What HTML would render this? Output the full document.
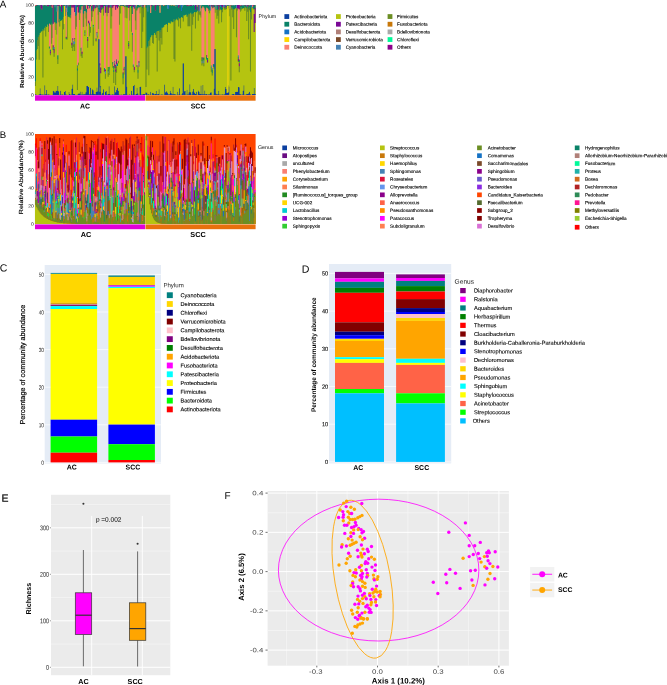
<!DOCTYPE html>
<html lang="en">
<head>
<meta charset="utf-8">
<title>Figure</title>
<style>
html,body{margin:0;padding:0;background:#fff;}
body{width:667px;height:685px;overflow:hidden;}
svg{display:block;font-family:"Liberation Sans", sans-serif;text-rendering:geometricPrecision;}
</style>
</head>
<body>
<svg width="667" height="685" viewBox="0 0 667 685">
<rect x="0" y="0" width="667" height="685" fill="#ffffff"/>
<g id="panelA">
<text x="-0.30" y="7.60" font-size="9.8" fill="#000" text-anchor="start" font-weight="normal" transform="rotate(0.04 -0.30 7.60)">A</text>
<rect x="35.00" y="5.00" width="220.60" height="90.00" fill="#a9b814"/>
<path d="M35.47 95.00V94.30M36.40 95.00V94.55M37.33 95.00V94.93M38.26 95.00V94.87M39.19 95.00V94.23M40.13 95.00V88.22M41.06 95.00V94.05M41.99 95.00V94.63M42.92 95.00V94.05M43.86 95.00V94.71M44.79 95.00V85.32M45.72 95.00V94.34M46.65 95.00V89.99M47.58 95.00V94.55M48.52 95.00V94.29M49.45 95.00V94.39M50.38 95.00V94.77M51.31 95.00V94.88M52.25 95.00V94.71M53.18 95.00V90.77M54.11 95.00V91.26M55.04 95.00V92.55M55.97 95.00V90.81M56.91 95.00V90.78M57.84 95.00V85.95M58.77 95.00V91.36M59.70 95.00V94.73M60.64 95.00V90.82M61.57 95.00V94.45M62.50 95.00V94.22M63.43 95.00V94.79M64.36 95.00V92.06M65.30 95.00V90.89M66.23 95.00V94.52M67.16 95.00V94.47M68.09 95.00V94.90M69.03 95.00V92.04M69.96 95.00V94.02M70.89 95.00V94.84M71.82 95.00V88.81M72.75 95.00V84.39M73.69 95.00V93.94M74.62 95.00V93.93M75.55 95.00V94.72M76.48 95.00V94.64M77.42 95.00V94.57M78.35 95.00V93.51M79.28 95.00V93.38M80.21 95.00V91.51M81.14 95.00V94.43M82.08 95.00V91.63M83.01 95.00V94.50M83.94 95.00V94.11M84.87 95.00V94.19M85.81 95.00V92.34M86.74 95.00V86.01M87.67 95.00V85.74M88.60 95.00V87.01M89.53 95.00V94.20M90.47 95.00V87.67M91.40 95.00V94.19M92.33 95.00V89.14M93.26 95.00V90.36M94.19 95.00V94.11M95.13 95.00V94.16M96.06 95.00V91.99M96.99 95.00V87.51M97.92 95.00V91.39M98.86 95.00V39.20M99.79 95.00V91.73M100.72 95.00V85.88M101.65 95.00V94.62M102.58 95.00V92.68M103.52 95.00V89.28M104.45 95.00V94.96M105.38 95.00V91.77M106.31 95.00V91.06M107.25 95.00V94.45M108.18 95.00V93.94M109.11 95.00V86.31M110.04 95.00V93.93M111.91 95.00V94.35M112.84 95.00V94.16M113.77 95.00V94.60M114.70 95.00V86.29M115.64 95.00V92.37M116.57 95.00V89.81M117.50 95.00V87.80M118.43 95.00V90.82M119.36 95.00V94.53M120.30 95.00V94.81M121.23 95.00V94.29M122.16 95.00V94.94M123.09 95.00V94.34M124.03 95.00V94.12M124.96 95.00V94.15M125.89 95.00V56.30M126.82 95.00V86.86M127.75 95.00V94.67M128.69 95.00V94.84M129.62 95.00V94.36M130.55 95.00V94.93M131.48 95.00V90.84M132.42 95.00V94.43M133.35 95.00V85.94M134.28 95.00V84.67M135.21 95.00V94.75M136.14 95.00V94.08M137.08 95.00V87.75M138.01 95.00V93.55M138.94 95.00V94.88M139.87 95.00V86.90M140.81 95.00V86.60M141.74 95.00V94.39M142.67 95.00V94.18M143.60 95.00V93.97M144.53 95.00V93.99M146.02 95.00V92.53M146.95 95.00V92.48M147.88 95.00V94.43M148.81 95.00V94.06M149.75 95.00V94.86M150.68 95.00V91.71M151.61 95.00V94.65M152.54 95.00V93.03M153.48 95.00V93.31M154.41 95.00V94.32M155.34 95.00V94.08M156.28 95.00V90.89M157.21 95.00V94.32M158.14 95.00V94.08M159.07 95.00V89.35M160.01 95.00V94.83M160.94 95.00V94.49M161.87 95.00V94.26M162.80 95.00V94.59M163.74 95.00V94.71M164.67 95.00V84.45M165.60 95.00V92.17M166.53 95.00V91.14M167.47 95.00V92.53M168.40 95.00V94.13M169.33 95.00V94.31M170.26 95.00V90.80M171.20 95.00V92.99M172.13 95.00V94.16M173.06 95.00V86.67M174.00 95.00V94.25M174.93 95.00V94.11M175.86 95.00V94.42M176.79 95.00V94.68M177.73 95.00V91.65M178.66 95.00V94.48M179.59 95.00V88.19M180.52 95.00V94.73M181.46 95.00V94.45M182.39 95.00V93.25M183.32 95.00V63.50M184.25 95.00V91.16M185.19 95.00V90.89M186.12 95.00V94.80M187.05 95.00V89.63M187.98 95.00V94.53M188.92 95.00V92.32M189.85 95.00V84.32M190.78 95.00V92.30M191.72 95.00V94.49M192.65 95.00V91.46M193.58 95.00V88.90M194.51 95.00V92.42M195.45 95.00V93.98M196.38 95.00V91.67M197.31 95.00V94.68M198.24 95.00V90.57M199.18 95.00V91.75M200.11 95.00V94.01M201.04 95.00V85.48M201.97 95.00V94.19M202.91 95.00V84.92M203.84 95.00V94.32M204.77 95.00V90.62M205.70 95.00V94.24M206.64 95.00V93.96M207.57 95.00V94.40M208.50 95.00V94.30M209.43 95.00V94.27M210.37 95.00V92.47M211.30 95.00V92.23M212.23 95.00V94.68M213.17 95.00V94.74M214.10 95.00V88.70M215.03 95.00V49.10M215.96 95.00V93.48M216.90 95.00V94.18M217.83 95.00V94.36M218.76 95.00V90.78M219.69 95.00V94.45M220.63 95.00V94.40M221.56 95.00V94.38M222.49 95.00V94.37M223.42 95.00V94.38M224.36 95.00V94.35M225.29 95.00V86.94M226.22 95.00V88.93M227.15 95.00V92.94M228.09 95.00V84.93M229.02 95.00V86.59M229.95 95.00V94.93M230.89 95.00V94.87M231.82 95.00V94.51M232.75 95.00V94.12M233.68 95.00V94.07M234.62 95.00V94.40M235.55 95.00V92.01M236.48 95.00V91.71M237.41 95.00V91.66M238.35 95.00V86.90M239.28 95.00V87.35M240.21 95.00V94.03M241.14 95.00V94.50M242.08 95.00V94.57M243.01 95.00V90.82M243.94 95.00V85.30M244.87 95.00V94.83M245.81 95.00V94.38M246.74 95.00V93.64M247.67 95.00V94.06M248.61 95.00V93.31M249.54 95.00V91.83M250.47 95.00V94.33M251.40 95.00V94.95M252.34 95.00V94.04M253.27 95.00V94.05M254.20 95.00V88.01M255.13 95.00V94.11" stroke="#0b3fa0" stroke-width="1.052" fill="none"/>
<path d="M35.47 94.30V86.00M36.40 94.55V59.43M37.33 94.93V48.99M38.26 94.87V46.01M39.19 94.23V59.69M40.13 88.22V33.02M41.06 94.05V31.66M41.99 94.63V30.91M42.92 94.05V77.45M43.86 94.71V30.40M44.79 85.32V27.64M45.72 94.34V36.61M46.65 89.99V26.88M47.58 94.55V24.61M48.52 94.29V32.04M49.45 94.39V48.38M50.38 94.77V55.28M51.31 94.88V43.69M52.25 94.71V38.07M53.18 90.77V49.97M54.11 91.26V56.87M55.04 92.55V30.00M55.97 90.81V23.53M56.91 90.78V34.53M57.84 85.95V63.93M58.77 91.36V22.31M59.70 94.73V26.40M60.64 90.82V20.99M61.57 94.45V20.17M62.50 94.22V49.30M63.43 94.79V29.34M64.36 92.06V23.90M65.30 90.89V16.10M66.23 94.52V39.33M67.16 94.47V39.54M68.09 94.90V16.71M69.03 92.04V16.81M69.96 94.02V17.41M70.89 94.84V18.23M71.82 88.81V47.96M72.75 84.39V50.98M73.69 93.94V46.73M74.62 93.93V51.00M75.55 94.72V29.17M76.48 94.64V26.66M77.42 94.57V90.07M78.35 93.51V65.14M79.28 93.38V20.00M80.21 91.51V13.18M81.14 94.43V56.25M82.08 91.63V58.05M83.01 94.50V26.67M83.94 94.11V26.90M84.87 94.19V36.09M85.81 92.34V18.54M86.74 86.01V26.29M87.67 85.74V47.72M88.60 87.01V23.33M89.53 94.20V36.31M90.47 87.67V32.68M91.40 94.19V21.21M92.33 89.14V17.09M93.26 90.36V45.67M94.19 94.11V8.10M95.13 94.16V9.23M96.06 91.99V41.32M96.99 87.51V38.24M97.92 91.39V14.69M98.86 39.20V28.96M99.79 91.73V87.23M100.72 85.88V73.26M101.65 94.62V9.75M102.58 92.68V8.45M103.52 89.28V15.50M104.45 94.96V71.58M105.38 91.77V78.86M106.31 91.06V12.83M107.25 94.45V16.35M108.18 93.94V76.67M109.11 86.31V75.00M110.04 93.93V7.75M110.97 95.00V28.53M111.91 94.35V16.23M112.84 94.16V67.81M113.77 94.60V83.05M114.70 86.29V68.22M115.64 92.37V85.12M116.57 89.81V72.75M117.50 87.80V66.08M118.43 90.82V63.18M119.36 94.53V24.82M120.30 94.81V13.40M121.23 94.29V5.96M122.16 94.94V6.02M123.09 94.34V84.27M124.03 94.12V74.38M124.96 94.15V17.85M125.89 56.30V6.76M126.82 86.86V18.28M127.75 94.67V7.44M128.69 94.84V48.81M129.62 94.36V20.45M130.55 94.93V6.09M131.48 90.84V31.84M132.42 94.43V51.82M133.35 85.94V66.63M134.28 84.67V72.22M135.21 94.75V20.43M136.14 94.08V29.64M137.08 87.75V67.10M138.01 93.55V78.68M138.94 94.88V66.46M139.87 86.90V13.37M140.81 86.60V6.61M141.74 94.39V47.89M142.67 94.18V31.85M143.60 93.97V17.22M144.53 93.99V7.43M146.02 92.53V86.90M146.95 92.48V69.48M147.88 94.43V46.58M148.81 94.06V75.20M149.75 94.86V45.69M150.68 91.71V37.22M151.61 94.65V35.37M152.54 93.03V43.00M153.48 93.31V43.81M154.41 94.32V33.02M155.34 94.08V34.72M156.28 90.89V38.00M157.21 94.32V71.60M158.14 94.08V31.01M159.07 89.35V40.49M160.01 94.83V51.37M160.94 94.49V37.93M161.87 94.26V44.42M162.80 94.59V27.84M163.74 94.71V26.71M164.67 84.45V24.91M165.60 92.17V24.49M166.53 91.14V24.06M167.47 92.53V31.96M168.40 94.13V22.83M169.33 94.31V22.86M170.26 90.80V23.60M171.20 92.99V21.35M172.13 94.16V22.15M173.06 86.67V21.70M174.00 94.25V58.95M174.93 94.11V61.46M175.86 94.42V19.64M176.79 94.68V18.65M177.73 91.65V20.25M178.66 94.48V26.51M179.59 88.19V18.55M180.52 94.73V28.30M181.46 94.45V17.12M182.39 93.25V17.64M183.32 63.50V21.46M184.25 91.16V15.50M185.19 90.89V15.07M186.12 94.80V14.56M187.05 89.63V16.69M187.98 94.53V26.20M188.92 92.32V26.22M189.85 84.32V26.22M190.78 92.30V12.84M191.72 94.49V50.75M192.65 91.46V24.69M193.58 88.90V16.71M194.51 92.42V12.07M195.45 93.98V28.38M196.38 91.67V12.36M197.31 94.68V10.65M198.24 90.57V20.86M199.18 91.75V14.58M200.11 94.01V15.36M201.04 85.48V17.40M201.97 94.19V65.41M202.91 84.92V63.54M203.84 94.32V66.29M204.77 90.62V10.11M205.70 94.24V11.17M206.64 93.96V59.51M207.57 94.40V62.45M208.50 94.30V10.84M209.43 94.27V13.26M210.37 92.47V10.59M211.30 92.23V71.75M212.23 94.68V75.41M213.17 94.74V66.69M214.10 88.70V68.68M215.03 49.10V12.65M215.96 93.48V9.07M216.90 94.18V18.81M217.83 94.36V15.80M218.76 90.78V23.47M219.69 94.45V10.47M220.63 94.40V9.62M221.56 94.38V22.14M222.49 94.37V12.27M223.42 94.38V7.31M224.36 94.35V9.45M225.29 86.94V9.87M226.22 88.93V8.99M227.15 92.94V9.22M229.02 86.59V16.36M229.95 94.93V8.63M230.89 94.87V80.60M231.82 94.51V9.47M232.75 94.12V17.24M233.68 94.07V28.92M234.62 94.40V9.34M235.55 92.01V8.37M236.48 91.71V37.15M237.41 91.66V10.39M238.35 86.90V62.07M239.28 87.35V72.32M240.21 94.03V11.66M241.14 94.50V10.51M242.08 94.57V9.04M243.01 90.82V8.06M243.94 85.30V8.31M244.87 94.83V10.84M245.81 94.38V7.49M246.74 93.64V20.89M247.67 94.06V11.65M248.61 93.31V39.25M249.54 91.83V10.20M250.47 94.33V71.60M251.40 94.95V19.60M252.34 94.04V7.81M253.27 94.05V9.55M254.20 88.01V9.06M255.13 94.11V10.30" stroke="#b5c410" stroke-width="1.052" fill="none"/>
<path d="M35.47 86.00V81.50M36.40 59.43V50.62M37.33 48.99V40.28M38.26 46.01V37.03M39.19 59.69V35.19M42.92 77.45V29.16M45.72 36.61V25.93M48.52 32.04V26.29M49.45 46.69V46.29M50.38 55.28V53.38M51.31 43.69V23.73M52.25 38.07V25.10M54.11 56.87V52.86M55.04 30.00V22.23M56.91 34.53V23.31M57.84 63.93V59.39M59.70 26.40V19.17M62.50 49.30V19.57M63.43 29.34V16.98M67.16 39.54V15.36M70.89 18.23V14.91M71.82 47.96V45.18M72.75 50.98V42.09M73.69 46.73V44.34M74.62 51.00V43.68M74.62 41.50V39.10M75.55 29.17V16.04M76.48 26.66V15.57M77.42 90.07V70.76M77.42 68.19V65.71M78.35 65.14V62.58M79.28 20.00V12.42M81.14 56.25V50.82M82.08 58.05V53.64M83.01 26.67V13.41M83.94 26.90V13.98M84.87 36.09V34.13M84.87 32.62V30.70M85.81 18.54V12.19M86.74 26.29V12.80M87.67 47.72V41.12M89.53 36.31V25.48M90.47 32.68V30.04M90.47 30.04V27.50M91.40 21.21V11.09M92.33 17.09V9.57M93.26 45.67V28.57M93.26 28.57V27.24M96.99 38.24V36.77M97.92 14.69V8.83M98.86 28.96V9.98M99.79 87.23V65.34M99.79 63.61V63.25M103.52 15.50V8.36M105.38 78.86V73.64M106.31 12.83V6.68M107.25 16.35V6.63M108.18 76.67V72.63M108.18 69.74V66.99M109.11 75.00V69.66M109.11 66.96V66.78M110.97 28.53V7.29M111.91 16.23V7.99M112.84 67.81V64.47M113.77 83.05V72.07M113.77 69.80V68.86M114.70 68.22V66.77M115.64 85.12V71.74M115.64 69.23V68.09M116.57 72.75V66.31M118.43 63.18V60.88M119.36 24.82V6.45M120.30 13.40V6.05M123.09 84.27V78.55M124.03 74.38V70.30M124.96 17.85V5.72M126.82 18.28V7.55M128.69 48.81V46.24M128.69 42.68V40.91M129.62 20.45V7.63M131.48 31.84V8.14M132.42 51.82V35.33M134.28 72.22V69.94M135.21 20.43V8.22M136.14 29.64V6.36M138.01 78.68V72.71M138.01 69.85V67.29M139.87 13.37V7.21M141.74 47.89V6.71M142.67 31.85V8.17M143.60 17.22V5.72M146.02 86.90V7.70M146.95 69.48V48.17M148.81 75.20V41.00M149.75 45.69V39.73M152.54 43.00V35.61M153.48 43.81V35.05M156.28 38.00V32.17M157.21 71.60V31.10M159.07 40.49V30.50M160.01 51.37V31.88M160.94 37.93V29.93M161.87 44.42V27.75M167.47 31.96V25.17M174.00 58.95V19.24M174.93 61.46V21.16M178.66 26.51V17.52M180.52 28.30V18.26M183.32 21.46V15.52M187.98 26.20V15.17M188.92 26.22V13.67M189.85 26.22V14.15M191.72 50.75V14.61M192.65 24.69V13.79M193.58 16.71V13.14M195.45 28.38V11.96M198.24 20.86V11.70M199.18 14.58V11.18M200.11 15.36V11.15M201.04 17.40V11.25M201.97 65.41V63.19M202.91 63.54V61.22M202.91 61.22V58.60M203.84 66.29V64.55M203.84 64.55V63.19M204.77 10.11V8.95M208.50 10.84V9.16M209.43 13.26V10.17M211.30 71.75V71.12M211.30 71.12V68.28M212.23 75.41V73.32M214.10 68.68V67.20M215.03 12.65V9.85M216.90 18.81V10.03M217.83 15.80V9.76M218.76 23.47V9.46M219.69 10.47V7.18M221.56 22.14V10.05M222.49 12.27V9.20M224.36 9.45V7.79M225.29 9.87V7.68M226.22 8.99V6.88M229.02 16.36V8.06M230.89 80.60V8.60M231.82 9.47V7.31M232.75 17.24V8.64M233.68 28.92V9.52M236.48 37.15V8.36M237.41 10.39V8.60M238.35 62.07V61.12M239.28 72.32V66.28M239.28 63.23V62.01M240.21 11.66V9.31M241.14 10.51V7.08M244.87 10.84V6.49M246.74 20.89V8.28M247.67 11.65V6.81M248.61 39.25V8.71M249.54 10.20V7.14M250.47 71.60V12.20M251.40 19.60V7.19M253.27 9.55V8.41M255.13 10.30V8.86" stroke="#6b8e23" stroke-width="1.052" fill="none"/>
<path d="M35.47 81.50V5.77M36.40 50.62V5.79M37.33 40.28V5.07M38.26 37.03V6.18M38.26 6.18V5.00M39.19 35.19V5.89M40.13 33.02V5.26M41.06 31.66V8.61M41.99 30.91V9.46M42.92 29.16V6.00M43.86 30.40V5.09M44.79 27.64V5.56M45.72 25.93V5.31M46.65 26.88V5.79M47.58 24.61V6.27M48.52 26.29V6.20M49.45 48.38V46.69M49.45 23.69V5.00M50.38 51.17V50.09M50.38 50.09V49.62M50.38 24.80V5.00M51.31 23.73V6.41M52.25 25.10V7.82M53.18 49.97V47.96M54.11 22.45V5.00M55.04 22.23V7.31M55.97 23.53V9.82M55.97 9.82V5.00M56.91 23.31V11.53M57.84 59.39V57.08M57.84 57.08V55.51M58.77 22.31V6.08M59.70 19.17V5.35M60.64 20.99V6.17M61.57 20.17V11.69M62.50 19.57V5.47M63.43 16.98V5.14M64.36 5.90V5.00M65.30 16.10V8.44M66.23 39.33V38.00M66.23 36.94V36.70M67.16 15.36V12.04M68.09 16.71V5.49M69.03 16.81V6.42M69.96 17.41V6.09M69.96 6.09V5.00M70.89 14.91V10.39M70.89 10.39V5.00M72.75 42.09V40.53M72.75 40.53V39.77M72.75 38.44V37.89M75.55 16.04V12.93M76.48 15.57V5.40M77.42 70.76V68.19M77.42 7.28V5.00M79.28 12.42V5.92M80.21 13.18V5.00M81.14 50.82V48.04M81.14 9.79V5.00M82.08 6.36V5.00M83.01 13.41V5.17M83.94 13.98V9.63M84.87 33.35V32.62M84.87 30.70V30.36M84.87 11.06V5.00M85.81 12.19V5.17M86.74 12.80V8.63M87.67 38.50V36.97M88.60 6.06V5.00M89.53 25.48V23.54M89.53 8.44V5.00M90.47 27.50V26.85M91.40 11.09V5.83M92.33 9.57V5.36M93.26 26.26V25.16M93.26 25.16V24.65M95.13 9.23V6.32M96.06 40.57V39.12M96.06 8.06V5.00M96.99 36.77V35.43M97.92 8.83V5.57M98.86 9.98V8.02M99.79 12.10V5.00M101.65 9.75V7.58M102.58 8.45V7.35M103.52 8.36V6.29M103.52 6.29V5.00M104.45 70.22V67.95M104.45 6.35V5.00M105.38 69.90V69.33M107.25 6.63V5.23M108.18 71.58V69.74M109.11 69.66V68.37M109.11 68.37V66.96M110.04 7.75V5.33M110.04 5.33V5.00M112.84 64.47V62.29M113.77 72.07V69.80M113.77 68.86V67.74M113.77 67.74V65.97M114.70 64.28V63.07M114.70 62.34V60.83M115.64 66.53V65.03M116.57 60.91V59.24M117.50 66.08V63.29M118.43 6.73V5.00M119.36 6.45V5.89M120.30 6.05V5.15M121.23 5.96V5.19M122.16 6.02V5.54M123.09 78.55V75.80M123.09 75.80V73.60M123.09 6.11V5.00M124.03 68.60V66.78M124.03 7.33V5.00M125.89 6.76V5.77M126.82 7.55V6.10M127.75 7.44V5.00M128.69 44.14V42.68M129.62 7.63V5.90M130.55 6.09V5.96M131.48 8.14V5.83M132.42 35.33V32.76M132.42 13.90V5.00M133.35 66.63V65.36M134.28 66.88V66.72M137.08 67.10V66.32M137.08 66.32V65.34M137.08 10.39V5.00M138.01 72.71V69.85M138.01 8.48V5.00M138.94 7.46V5.00M139.87 7.21V5.41M140.81 6.61V5.59M142.67 8.17V6.83M143.60 5.72V5.00M146.02 7.70V5.57M146.95 48.17V5.62M146.95 5.62V5.00M147.88 46.58V11.54M148.81 41.00V5.80M148.81 5.80V5.00M149.75 39.73V6.27M150.68 37.22V12.94M151.61 35.37V6.40M152.54 35.61V5.21M153.48 35.05V5.56M154.41 33.02V5.20M155.34 34.72V10.50M156.28 32.17V5.84M157.21 31.10V5.60M157.21 5.60V5.00M158.14 31.01V5.03M159.07 30.50V6.12M160.01 31.88V12.73M160.94 29.93V6.14M160.94 6.14V5.00M161.87 27.75V6.10M162.80 27.84V5.11M162.80 5.11V5.00M163.74 26.71V6.07M164.67 24.91V5.24M165.60 24.49V5.33M166.53 24.06V6.43M166.53 6.43V5.00M167.47 25.17V8.48M168.40 22.83V9.06M169.33 22.86V5.52M170.26 23.60V7.68M170.26 7.68V5.00M171.20 21.35V5.42M172.13 22.15V5.22M173.06 21.70V11.01M173.06 11.01V5.00M174.00 19.24V6.07M174.93 21.16V5.80M174.93 5.80V5.00M175.86 19.64V6.84M176.79 18.65V5.61M176.79 5.61V5.00M177.73 20.25V5.88M178.66 17.52V7.71M179.59 18.55V5.76M180.52 18.26V5.42M181.46 17.12V10.92M182.39 17.64V7.35M183.32 15.52V5.43M184.25 15.50V10.65M184.25 10.65V5.00M185.19 15.07V5.06M185.19 5.06V5.00M186.12 14.56V6.12M186.12 6.12V5.00M187.05 16.69V6.02M187.98 15.17V6.34M188.92 13.67V5.58M189.85 14.15V5.59M190.78 12.84V5.96M191.72 14.61V5.82M192.65 13.79V6.09M193.58 13.14V11.32M193.58 11.32V5.00M194.51 12.07V5.86M195.45 11.96V9.76M196.38 12.36V5.56M197.31 10.65V6.40M198.24 11.70V10.59M201.04 11.25V6.12M201.97 61.16V59.58M201.97 58.71V57.33M201.97 8.27V5.00M202.91 6.46V5.00M203.84 60.58V58.82M203.84 58.82V57.40M203.84 7.78V5.00M204.77 8.95V5.05M205.70 11.17V6.22M205.70 6.22V5.00M206.64 59.51V56.38M206.64 7.78V5.00M207.57 59.90V58.04M207.57 8.58V5.00M208.50 9.16V5.54M209.43 10.17V6.03M211.30 68.28V66.91M212.23 73.32V70.57M212.23 70.57V69.56M212.23 8.44V5.00M213.17 66.69V64.11M214.10 67.20V64.47M214.10 64.47V64.16M214.10 7.20V5.00M215.03 9.85V5.28M215.96 9.07V8.91M216.90 10.03V5.96M217.83 9.76V5.75M217.83 5.75V5.00M219.69 7.18V5.77M220.63 9.62V6.92M221.56 10.05V6.01M222.49 9.20V7.49M224.36 7.79V6.40M226.22 6.88V5.91M227.15 9.22V5.57M228.09 8.60V5.00M229.02 8.06V5.75M230.89 8.60V5.42M231.82 7.31V5.32M232.75 8.64V5.48M233.68 9.52V5.80M234.62 9.34V5.50M235.55 8.37V5.00M238.35 59.12V56.96M239.28 62.01V60.26M239.28 60.26V59.51M240.21 9.31V5.77M241.14 7.08V5.97M242.08 9.04V5.83M243.01 8.06V6.00M243.94 8.31V5.16M244.87 6.49V5.74M244.87 5.74V5.00M245.81 7.49V6.04M246.74 8.28V6.21M248.61 8.71V5.25M249.54 7.14V5.34M250.47 12.20V5.32M252.34 7.81V7.23M253.27 8.41V6.14M254.20 9.06V5.48M254.20 5.48V5.00M255.13 8.86V5.35" stroke="#0a8268" stroke-width="1.052" fill="none"/>
<path d="M35.47 5.77V5.00M49.45 46.29V23.69M50.38 49.62V24.80M52.25 7.82V5.00M53.18 45.37V23.74M54.11 47.12V22.45M57.84 55.08V6.07M60.64 6.17V5.00M66.23 36.70V7.65M71.82 42.72V7.51M72.75 37.89V7.47M73.69 41.38V7.42M74.62 38.28V12.07M77.42 64.91V7.28M78.35 62.58V12.42M81.14 47.77V9.79M82.08 51.77V6.36M84.87 30.36V11.06M86.74 8.63V5.00M87.67 36.97V8.86M88.60 20.78V6.06M89.53 22.78V8.44M90.47 26.85V6.18M91.40 5.83V5.00M93.26 24.65V11.35M96.06 38.48V8.06M96.99 32.28V7.33M97.92 5.57V5.00M99.79 63.25V12.10M100.72 67.43V12.67M104.45 67.95V6.35M105.38 69.33V12.76M108.18 66.99V13.02M109.11 66.78V7.58M112.84 61.91V7.47M113.77 65.97V5.91M114.70 60.83V5.21M115.64 65.03V9.70M116.57 59.24V6.44M117.50 63.29V8.20M118.43 60.75V6.73M119.36 5.89V5.00M123.09 72.45V6.11M124.03 66.78V7.33M124.96 5.72V5.00M128.69 40.91V7.89M132.42 32.76V13.90M133.35 64.40V6.91M134.28 66.72V8.46M136.14 6.36V5.00M137.08 64.88V10.39M138.01 66.79V8.48M138.94 61.25V7.46M139.87 5.41V5.00M144.53 7.43V5.00M150.68 12.94V5.00M158.14 5.03V5.00M160.01 12.73V5.00M163.74 6.07V5.00M171.20 5.42V5.00M172.13 5.22V5.00M174.00 6.07V5.00M188.92 5.58V5.00M197.31 6.40V5.00M200.11 11.15V5.00M201.97 57.33V8.27M202.91 57.46V6.46M203.84 57.40V7.78M206.64 55.29V7.78M207.57 58.04V8.58M211.30 65.46V6.57M212.23 68.11V8.44M213.17 64.11V7.41M214.10 64.16V7.20M215.03 5.28V5.00M229.95 8.63V5.00M231.82 5.32V5.00M238.35 55.42V8.41M239.28 59.51V9.24M240.21 5.77V5.00M243.94 5.16V5.00M249.54 5.34V5.00M252.34 7.23V5.00" stroke="#fa8072" stroke-width="1.052" fill="none"/>
<path d="M36.40 5.79V5.00M37.33 5.07V5.00M47.58 6.27V5.00M48.52 6.20V5.00M51.31 6.41V5.00M53.18 47.96V45.37M54.11 51.51V49.11M58.77 6.08V5.00M59.70 5.35V5.00M61.57 11.69V5.00M66.23 38.00V36.94M66.23 7.65V5.00M71.82 7.51V5.00M72.75 39.77V38.44M73.69 7.42V5.00M74.62 39.10V38.28M78.35 12.42V5.00M83.94 9.63V5.00M87.67 41.12V38.50M87.67 8.86V5.00M88.60 23.33V20.78M90.47 6.18V5.00M93.26 11.35V5.00M96.06 41.32V40.57M100.72 70.50V67.43M101.65 7.58V5.00M102.58 7.35V5.00M104.45 71.58V70.22M105.38 70.94V69.90M111.91 7.99V5.00M112.84 62.29V61.91M113.77 5.91V5.00M114.70 66.77V64.28M115.64 68.09V66.53M116.57 64.11V61.84M116.57 6.44V5.00M122.16 5.54V5.00M128.69 7.89V5.00M129.62 5.90V5.00M131.48 5.83V5.00M134.28 69.94V66.88M134.28 8.46V5.00M138.94 66.46V65.42M142.67 6.83V5.00M155.34 10.50V5.00M178.66 7.71V5.00M179.59 5.76V5.00M187.05 6.02V5.00M189.85 5.59V5.00M198.24 10.59V5.00M202.91 58.60V57.46M206.64 56.38V55.29M209.43 6.03V5.00M219.69 5.77V5.00M222.49 7.49V5.00M225.29 7.68V5.00M238.35 61.12V59.12M239.28 66.28V63.23M241.14 5.97V5.00M247.67 6.81V5.00M253.27 6.14V5.00" stroke="#8b008b" stroke-width="1.052" fill="none"/>
<path d="M39.19 5.89V5.00M43.86 5.09V5.00M55.04 7.31V5.00M56.91 11.53V5.00M67.16 12.04V5.00M75.55 12.93V5.00M92.33 5.36V5.00M95.13 6.32V5.00M98.86 8.02V5.00M106.31 6.68V5.00M110.97 7.29V5.00M121.23 5.19V5.00M125.89 5.77V5.00M135.21 8.22V5.00M140.81 5.59V5.00M147.88 11.54V5.00M149.75 6.27V5.00M152.54 5.21V5.00M161.87 6.10V5.00M165.60 5.33V5.00M168.40 9.06V5.00M177.73 5.88V5.00M180.52 5.42V5.00M181.46 10.92V5.00M196.38 5.56V5.00M199.18 11.18V5.00M220.63 6.92V5.00M224.36 6.40V5.00M229.02 5.75V5.00M233.68 5.80V5.00M243.01 6.00V5.00M251.40 7.19V5.00" stroke="#1572c4" stroke-width="1.052" fill="none"/>
<path d="M40.13 5.26V5.00M41.06 8.61V5.00M41.99 9.46V5.00M44.79 5.56V5.00M50.38 53.38V51.17M53.18 23.74V5.00M54.11 52.86V51.51M57.84 6.07V5.00M62.50 5.47V5.00M63.43 5.14V5.00M69.03 6.42V5.00M71.82 45.18V42.72M72.75 7.47V5.00M74.62 12.07V5.00M76.48 5.40V5.00M79.28 5.92V5.00M82.08 53.64V51.77M89.53 23.54V22.78M94.19 8.10V5.00M96.06 39.12V38.48M96.99 33.09V32.28M96.99 7.33V5.00M99.79 65.34V63.61M100.72 73.26V70.50M100.72 12.67V5.00M105.38 12.76V5.00M108.18 13.02V5.00M109.11 7.58V5.00M112.84 7.47V5.00M114.70 5.21V5.00M115.64 71.74V69.23M115.64 9.70V5.00M116.57 61.84V60.91M117.50 8.20V5.00M120.30 5.15V5.00M123.09 73.60V72.45M124.03 70.30V68.60M126.82 6.10V5.00M128.69 46.24V44.14M130.55 5.96V5.00M133.35 6.91V5.00M137.08 65.34V64.88M138.01 67.29V66.79M138.94 62.78V61.25M146.02 5.57V5.00M151.61 6.40V5.00M156.28 5.84V5.00M159.07 6.12V5.00M164.67 5.24V5.00M187.98 6.34V5.00M190.78 5.96V5.00M191.72 5.82V5.00M195.45 9.76V5.00M201.97 59.58V58.71M204.77 5.05V5.00M207.57 62.45V59.90M211.30 6.57V5.00M213.17 7.41V5.00M216.90 5.96V5.00M218.76 9.46V5.00M221.56 6.01V5.00M227.15 5.57V5.00M230.89 5.42V5.00M237.41 8.60V5.00M238.35 8.41V5.00M239.28 9.24V5.00M245.81 6.04V5.00M248.61 5.25V5.00M250.47 5.32V5.00M255.13 5.35V5.00M255.13 23.00V7.70M254.20 32.00V14.00" stroke="#7a0896" stroke-width="1.052" fill="none"/>
<path d="M42.92 6.00V5.00M45.72 5.31V5.00M46.65 5.79V5.00M54.11 49.11V47.12M57.84 55.51V55.08M65.30 8.44V5.00M68.09 5.49V5.00M73.69 44.34V41.38M74.62 43.68V41.50M77.42 65.71V64.91M81.14 48.04V47.77M83.01 5.17V5.00M84.87 34.13V33.35M85.81 5.17V5.00M93.26 27.24V26.26M96.99 35.43V33.09M105.38 73.64V70.94M107.25 5.23V5.00M108.18 72.63V71.58M114.70 63.07V62.34M116.57 66.31V64.11M118.43 60.88V60.75M133.35 65.36V64.40M138.94 65.42V62.78M141.74 6.71V5.00M153.48 5.56V5.00M154.41 5.20V5.00M167.47 8.48V5.00M169.33 5.52V5.00M175.86 6.84V5.00M182.39 7.35V5.00M183.32 5.43V5.00M192.65 6.09V5.00M194.51 5.86V5.00M201.04 6.12V5.00M201.97 63.19V61.16M203.84 63.19V60.58M208.50 5.54V5.00M210.37 10.59V5.00M211.30 66.91V65.46M212.23 69.56V68.11M215.96 8.91V5.00M223.42 7.31V5.00M226.22 5.91V5.00M232.75 5.48V5.00M234.62 5.50V5.00M236.48 8.36V5.00M238.35 56.96V55.42M242.08 5.83V5.00M246.74 6.21V5.00" stroke="#4682b4" stroke-width="1.052" fill="none"/>
<path d="M64.36 23.90V5.90" stroke="#ffd700" stroke-width="1.052" fill="none"/>
<path d="M228.09 84.93V8.60" stroke="#e3cf08" stroke-width="1.052" fill="none"/>
<rect x="125.27" y="56.30" width="1.24" height="38.70" fill="#1a4a9a"/>
<rect x="98.24" y="39.20" width="1.24" height="55.80" fill="#1a4a9a"/>
<rect x="182.70" y="63.50" width="1.24" height="31.50" fill="#1a4a9a"/>
<rect x="214.41" y="49.10" width="1.24" height="45.90" fill="#1a4a9a"/>
<rect x="227.00" y="5.90" width="1.70" height="86.50" fill="#dccf0c"/>
<rect x="35.00" y="95.20" width="110.10" height="5.50" fill="#e000d8"/>
<rect x="145.50" y="95.20" width="110.10" height="5.50" fill="#e8700c"/>
<text x="33.90" y="96.60" font-size="4.5" fill="#222" text-anchor="end" font-weight="normal" transform="rotate(0.04 33.90 96.60)" textLength="2.8" lengthAdjust="spacingAndGlyphs">0</text>
<text x="33.90" y="78.60" font-size="4.5" fill="#222" text-anchor="end" font-weight="normal" transform="rotate(0.04 33.90 78.60)" textLength="5.6" lengthAdjust="spacingAndGlyphs">20</text>
<text x="33.90" y="60.60" font-size="4.5" fill="#222" text-anchor="end" font-weight="normal" transform="rotate(0.04 33.90 60.60)" textLength="5.6" lengthAdjust="spacingAndGlyphs">40</text>
<text x="33.90" y="42.60" font-size="4.5" fill="#222" text-anchor="end" font-weight="normal" transform="rotate(0.04 33.90 42.60)" textLength="5.6" lengthAdjust="spacingAndGlyphs">60</text>
<text x="33.90" y="24.60" font-size="4.5" fill="#222" text-anchor="end" font-weight="normal" transform="rotate(0.04 33.90 24.60)" textLength="5.6" lengthAdjust="spacingAndGlyphs">80</text>
<text x="33.90" y="6.60" font-size="4.5" fill="#222" text-anchor="end" font-weight="normal" transform="rotate(0.04 33.90 6.60)" textLength="8.4" lengthAdjust="spacingAndGlyphs">100</text>
<text x="23.50" y="51.50" font-size="5.9" fill="#000" text-anchor="middle" font-weight="bold" transform="rotate(-90 23.50 51.50)" textLength="73" lengthAdjust="spacingAndGlyphs">Relative Abundance(%)</text>
<text x="85.00" y="108.50" font-size="7.0" fill="#000" text-anchor="middle" font-weight="bold" transform="rotate(0.04 85.00 108.50)">AC</text>
<text x="198.10" y="108.50" font-size="7.0" fill="#000" text-anchor="middle" font-weight="bold" transform="rotate(0.04 198.10 108.50)">SCC</text>
<text x="258.60" y="18.00" font-size="5.3" fill="#111" text-anchor="start" font-weight="normal" transform="rotate(0.04 258.60 18.00)">Phylum</text>
<rect x="284.40" y="14.15" width="4.80" height="4.80" fill="#0b3fa0"/>
<text x="294.30" y="18.15" font-size="4.6" fill="#000" text-anchor="start" font-weight="normal" transform="rotate(0.04 294.30 18.15)" stroke="#000" stroke-width="0.12">Actinobacteriota</text>
<rect x="284.40" y="21.82" width="4.80" height="4.80" fill="#0a8268"/>
<text x="294.30" y="25.82" font-size="4.6" fill="#000" text-anchor="start" font-weight="normal" transform="rotate(0.04 294.30 25.82)" stroke="#000" stroke-width="0.12">Bacteroidota</text>
<rect x="284.40" y="29.49" width="4.80" height="4.80" fill="#1572c4"/>
<text x="294.30" y="33.49" font-size="4.6" fill="#000" text-anchor="start" font-weight="normal" transform="rotate(0.04 294.30 33.49)" stroke="#000" stroke-width="0.12">Acidobacteriota</text>
<rect x="284.40" y="37.16" width="4.80" height="4.80" fill="#ffd700"/>
<text x="294.30" y="41.16" font-size="4.6" fill="#000" text-anchor="start" font-weight="normal" transform="rotate(0.04 294.30 41.16)" stroke="#000" stroke-width="0.12">Campilobacterota</text>
<rect x="284.40" y="44.83" width="4.80" height="4.80" fill="#fa8072"/>
<text x="294.30" y="48.83" font-size="4.6" fill="#000" text-anchor="start" font-weight="normal" transform="rotate(0.04 294.30 48.83)" stroke="#000" stroke-width="0.12">Deinococcota</text>
<rect x="336.00" y="14.15" width="4.80" height="4.80" fill="#b5c410"/>
<text x="345.70" y="18.15" font-size="4.6" fill="#000" text-anchor="start" font-weight="normal" transform="rotate(0.04 345.70 18.15)" stroke="#000" stroke-width="0.12">Proteobacteria</text>
<rect x="336.00" y="21.82" width="4.80" height="4.80" fill="#7a0896"/>
<text x="345.70" y="25.82" font-size="4.6" fill="#000" text-anchor="start" font-weight="normal" transform="rotate(0.04 345.70 25.82)" stroke="#000" stroke-width="0.12">Patescibacteria</text>
<rect x="336.00" y="29.49" width="4.80" height="4.80" fill="#b08078"/>
<text x="345.70" y="33.49" font-size="4.6" fill="#000" text-anchor="start" font-weight="normal" transform="rotate(0.04 345.70 33.49)" stroke="#000" stroke-width="0.12">Desulfobacterota</text>
<rect x="336.00" y="37.16" width="4.80" height="4.80" fill="#7a4a2a"/>
<text x="345.70" y="41.16" font-size="4.6" fill="#000" text-anchor="start" font-weight="normal" transform="rotate(0.04 345.70 41.16)" stroke="#000" stroke-width="0.12">Verrucomicrobiota</text>
<rect x="336.00" y="44.83" width="4.80" height="4.80" fill="#4682b4"/>
<text x="345.70" y="48.83" font-size="4.6" fill="#000" text-anchor="start" font-weight="normal" transform="rotate(0.04 345.70 48.83)" stroke="#000" stroke-width="0.12">Cyanobacteria</text>
<rect x="387.60" y="14.15" width="4.80" height="4.80" fill="#6b8e23"/>
<text x="397.10" y="18.15" font-size="4.6" fill="#000" text-anchor="start" font-weight="normal" transform="rotate(0.04 397.10 18.15)" stroke="#000" stroke-width="0.12">Firmicutes</text>
<rect x="387.60" y="21.82" width="4.80" height="4.80" fill="#c8780a"/>
<text x="397.10" y="25.82" font-size="4.6" fill="#000" text-anchor="start" font-weight="normal" transform="rotate(0.04 397.10 25.82)" stroke="#000" stroke-width="0.12">Fusobacteriota</text>
<rect x="387.60" y="29.49" width="4.80" height="4.80" fill="#a9a9a9"/>
<text x="397.10" y="33.49" font-size="4.6" fill="#000" text-anchor="start" font-weight="normal" transform="rotate(0.04 397.10 33.49)" stroke="#000" stroke-width="0.12">Bdellovibrionota</text>
<rect x="387.60" y="37.16" width="4.80" height="4.80" fill="#00fa9a"/>
<text x="397.10" y="41.16" font-size="4.6" fill="#000" text-anchor="start" font-weight="normal" transform="rotate(0.04 397.10 41.16)" stroke="#000" stroke-width="0.12">Chloroflexi</text>
<rect x="387.60" y="44.83" width="4.80" height="4.80" fill="#8b008b"/>
<text x="397.10" y="48.83" font-size="4.6" fill="#000" text-anchor="start" font-weight="normal" transform="rotate(0.04 397.10 48.83)" stroke="#000" stroke-width="0.12">Others</text>
</g>
<g id="panelB">
<text x="-0.30" y="137.90" font-size="9.6" fill="#000" text-anchor="start" font-weight="normal" transform="rotate(0.04 -0.30 137.90)">B</text>
<rect x="35.00" y="134.00" width="110.00" height="90.00" fill="#ff4500"/>
<rect x="145.55" y="134.00" width="110.05" height="90.00" fill="#ff4500"/>
<path d="M35.47 224.00V204.77M36.40 224.00V206.66M37.33 224.00V208.37M38.26 224.00V209.91M39.19 224.00V211.29M40.13 224.00V212.54M41.06 224.00V213.67M41.99 224.00V214.69M42.92 224.00V215.60M43.86 224.00V216.43M44.79 224.00V217.18M45.72 224.00V217.85M46.65 224.00V218.45M47.58 224.00V219.00M48.52 224.00V219.49M49.45 224.00V219.93M50.38 224.00V220.33M51.31 224.00V220.69M52.25 224.00V221.02M53.18 224.00V221.31M54.11 224.00V221.58M55.04 224.00V221.82M55.97 224.00V222.03M56.91 224.00V222.22M57.84 224.00V222.40M58.77 224.00V222.56M59.70 224.00V222.70M60.64 224.00V222.83M61.57 224.00V222.94M62.50 224.00V223.05M63.43 224.00V223.14M64.36 224.00V223.22M65.30 224.00V223.30M66.23 224.00V223.37M67.16 224.00V223.43M68.09 224.00V223.49M69.03 224.00V223.54M69.96 224.00V223.58M70.89 224.00V223.62M71.82 224.00V223.66M72.75 224.00V223.69M73.69 224.00V223.72M74.62 224.00V223.75M146.02 224.00V140.30M146.95 224.00V140.30M147.88 224.00V187.10M148.81 224.00V196.96M149.75 224.00V204.19M150.68 224.00V209.48M151.61 224.00V213.36M152.54 224.00V216.20M153.48 224.00V218.29M154.41 224.00V219.81M155.34 224.00V220.93M156.28 224.00V221.75M157.21 224.00V222.35M158.14 224.00V222.79M159.07 224.00V223.12M160.01 224.00V223.35M160.94 224.00V223.52M161.87 224.00V223.65M162.80 224.00V223.74M163.74 224.00V223.81M164.67 224.00V223.86M165.60 224.00V223.90M166.53 224.00V223.93M167.47 224.00V223.95M168.40 224.00V223.96M169.33 224.00V223.97M170.26 224.00V223.98M171.20 224.00V223.98M172.13 224.00V223.99" stroke="#b5c410" stroke-width="1.052" fill="none"/>
<path d="M35.47 204.77V199.70M46.65 218.45V210.31M49.45 219.93V213.44M51.31 220.69V218.99M62.50 223.05V220.89M65.30 223.30V209.03M66.23 223.37V215.13M67.16 223.43V217.06M68.09 223.49V220.30M69.03 223.54V216.44M86.74 224.00V221.96M87.67 224.00V216.40M92.33 224.00V216.99M99.79 224.00V214.56M102.58 224.00V214.60M104.45 224.00V221.69M109.11 224.00V218.32M111.91 224.00V218.53M117.50 224.00V220.80M118.43 224.00V218.43M121.23 224.00V218.56M124.96 224.00V215.16M125.89 224.00V218.21M126.82 224.00V216.35M128.69 224.00V220.70M141.74 224.00V215.67M146.02 140.30V135.80M146.95 140.30V135.80M147.88 187.10V183.50M148.81 196.96V194.50M150.68 209.48V205.04M152.54 216.20V214.60M160.94 223.52V221.04M165.60 223.90V216.50M166.53 223.93V217.41M173.06 223.99V220.38M174.00 223.99V217.76M175.86 224.00V221.24M176.79 224.00V218.77M178.66 224.00V222.68M180.52 224.00V216.45M183.32 224.00V215.10M185.19 224.00V214.79M187.05 224.00V219.81M188.92 224.00V214.43M194.51 224.00V218.12M195.45 224.00V221.48M198.24 224.00V216.53M201.04 224.00V220.14M201.97 224.00V220.55M205.70 224.00V220.67M207.57 224.00V217.84M210.37 224.00V198.85M212.23 224.00V213.38M220.63 224.00V215.64M221.56 224.00V209.43M228.09 224.00V210.24M229.95 224.00V215.90M241.14 224.00V217.89M242.08 224.00V212.82M249.54 224.00V221.08M251.40 224.00V221.29M254.20 224.00V217.95" stroke="#7d8f1e" stroke-width="1.052" fill="none"/>
<path d="M35.47 199.70V198.54M38.26 204.78V204.48M39.19 202.20V202.17M49.45 213.44V209.78M53.18 217.73V209.35M55.04 218.62V213.02M57.84 220.81V220.55M61.57 217.93V217.70M63.43 221.23V216.29M72.75 208.15V206.13M73.69 219.32V217.60M75.55 219.72V219.33M79.28 217.49V201.35M87.67 216.40V216.24M93.26 222.28V217.92M96.99 218.27V218.12M97.92 222.17V216.18M98.86 219.23V204.13M102.58 214.60V210.47M113.77 220.38V217.00M123.09 221.31V219.10M126.82 210.69V209.59M127.75 221.48V195.38M128.69 215.14V214.68M129.62 208.33V207.20M137.08 217.59V217.02M138.94 219.30V216.80M147.88 183.50V183.28M152.54 214.60V203.31M153.48 211.30V207.89M155.34 217.28V216.41M158.14 217.03V215.72M160.94 221.04V218.95M161.87 218.89V218.78M163.74 212.22V209.40M164.67 221.32V220.55M166.53 217.41V211.05M169.33 214.40V208.09M170.26 220.34V219.08M172.13 216.61V214.48M173.06 220.38V213.40M174.93 219.57V218.96M177.73 214.47V213.74M180.52 202.28V198.53M181.46 211.13V196.97M182.39 214.23V212.83M195.45 221.48V221.45M200.11 217.05V216.41M211.30 222.07V220.60M212.23 213.38V209.35M220.63 215.64V205.63M224.36 181.67V179.89M225.29 210.41V199.09M227.15 217.46V212.49M228.09 210.24V208.70M229.02 210.03V191.33M229.95 212.28V198.99M230.89 215.10V215.07M233.68 221.11V217.24M241.14 216.51V212.47M243.94 214.04V208.74M255.13 205.44V201.05" stroke="#c8780a" stroke-width="1.052" fill="none"/>
<path d="M35.47 198.54V197.79M39.19 202.17V191.73M43.86 213.00V212.51M45.72 209.09V208.96M46.65 210.31V207.99M52.25 218.22V212.31M57.84 220.55V214.32M58.77 213.27V212.77M69.96 220.85V220.63M73.69 217.60V216.33M79.28 201.35V199.00M84.87 204.72V191.09M85.81 218.46V218.15M86.74 221.96V221.40M89.53 215.38V202.97M98.86 204.13V202.95M101.65 214.53V212.16M105.38 192.19V191.67M106.31 219.66V214.73M107.25 218.12V209.87M110.04 217.71V197.85M115.64 216.86V216.45M117.50 220.80V206.75M129.62 207.20V207.05M141.74 215.67V214.58M152.54 203.31V198.02M155.34 216.41V215.16M156.28 216.90V216.29M157.21 203.18V187.87M160.01 219.24V210.02M161.87 218.78V217.42M166.53 211.05V209.34M170.26 219.08V218.84M172.13 214.48V202.77M173.06 213.40V212.17M177.73 213.74V212.31M180.52 198.53V196.14M181.46 196.97V196.39M182.39 212.83V208.75M186.12 218.82V211.99M188.92 214.43V214.29M191.72 211.08V207.25M199.18 216.70V197.48M201.97 220.55V206.87M202.91 219.61V210.80M204.77 211.03V194.99M205.70 209.23V204.04M206.64 207.76V195.40M208.50 210.55V206.61M212.23 209.35V208.13M215.96 216.04V206.05M221.56 209.43V208.55M225.29 199.09V195.28M227.15 212.49V188.33M242.08 212.82V208.01M243.94 208.74V206.02M245.81 212.49V209.33M246.74 210.44V200.11M248.61 205.50V204.49M252.34 207.31V200.19" stroke="#556b2f" stroke-width="1.052" fill="none"/>
<path d="M35.47 197.79V197.78M37.33 201.04V201.03M38.26 204.48V204.22M44.79 212.09V208.39M48.52 217.41V216.15M52.25 212.31V212.24M55.04 213.02V212.84M56.91 218.26V207.62M58.77 212.77V207.95M63.43 216.29V215.89M64.36 219.34V216.33M65.30 209.03V208.53M67.16 217.06V216.09M71.82 222.02V219.84M75.55 219.33V204.22M77.42 222.70V221.78M78.35 218.11V216.09M80.21 214.52V212.48M85.81 218.15V216.92M88.60 209.52V203.85M89.53 202.97V202.82M90.47 215.47V214.33M91.40 219.62V200.93M92.33 216.99V206.56M93.26 217.92V210.78M94.19 215.12V182.98M96.06 222.23V214.74M98.86 202.95V195.71M99.79 214.56V213.37M101.65 212.16V211.47M124.03 213.83V210.12M125.89 209.28V202.64M126.82 209.59V193.76M130.55 213.00V212.80M131.48 220.34V218.61M134.28 205.20V205.09M138.01 221.43V220.18M141.74 214.58V214.25M148.81 189.56V187.41M149.75 197.83V195.99M154.41 210.79V203.33M155.34 215.16V211.08M157.21 187.87V185.70M158.14 215.72V205.44M159.07 221.63V220.08M165.60 216.50V215.26M167.47 214.97V214.36M169.33 208.09V204.15M170.26 218.84V218.46M171.20 218.02V196.50M177.73 212.31V211.93M179.59 220.36V207.21M188.92 214.29V210.80M189.85 220.91V219.00M196.38 207.31V207.22M200.11 216.41V216.27M201.04 220.14V214.40M202.91 210.80V208.83M209.43 212.93V209.65M213.17 211.73V209.71M214.10 192.17V191.15M215.03 220.80V214.65M217.83 215.86V202.16M218.76 213.70V210.23M219.69 214.72V174.40M226.22 220.68V218.28M233.68 217.24V217.17M234.62 216.59V196.70M235.55 209.75V208.71M249.54 221.08V183.82M255.13 201.05V198.74" stroke="#4682b4" stroke-width="1.052" fill="none"/>
<path d="M35.47 197.78V194.10M41.99 187.68V179.85M46.65 207.99V198.45M57.84 214.32V213.77M59.70 218.86V213.88M60.64 219.97V204.73M63.43 215.89V177.45M64.36 216.33V212.82M66.23 214.80V196.05M68.09 220.30V215.55M69.96 216.72V216.03M70.89 218.66V216.98M71.82 219.84V218.43M74.62 214.32V214.15M76.48 218.67V215.91M81.14 215.18V214.60M86.74 221.40V209.78M96.99 218.12V218.04M99.79 213.37V213.36M100.72 217.85V209.57M101.65 211.47V203.35M109.11 218.32V213.75M110.04 197.85V196.65M110.97 214.67V196.73M112.84 217.05V216.38M122.16 220.19V213.92M132.42 222.37V215.69M133.35 222.68V218.83M137.08 216.07V212.54M138.94 216.80V200.93M140.81 214.34V208.12M142.67 220.65V220.25M155.34 210.12V210.07M160.01 210.02V209.82M164.67 216.28V209.98M170.26 218.46V215.62M177.73 211.88V207.89M182.39 208.75V207.90M183.32 215.10V212.63M186.12 207.30V205.22M192.65 215.96V208.49M200.11 211.92V210.21M205.70 204.04V203.76M208.50 206.61V203.44M210.37 198.85V190.99M211.30 220.60V217.24M213.17 209.71V204.22M214.10 191.15V184.38M220.63 205.63V203.84M226.22 218.28V211.99M229.95 184.25V177.76M231.82 204.99V200.82M238.35 203.82V200.07M240.21 215.43V206.25M247.67 202.71V200.30M249.54 183.82V183.58M250.47 206.73V206.14M252.34 200.19V196.66M254.20 212.51V207.97" stroke="#a9a9a9" stroke-width="1.052" fill="none"/>
<path d="M35.47 194.10V191.20M45.72 208.18V207.61M46.65 184.15V181.41M47.58 212.88V212.43M52.25 212.24V198.93M54.11 220.05V218.37M55.04 212.52V201.91M57.84 213.77V204.45M59.70 213.88V194.11M64.36 211.24V211.07M67.16 216.09V213.97M73.69 207.94V196.14M75.55 204.22V202.81M76.48 215.91V196.52M79.28 179.97V179.88M82.08 200.74V194.08M84.87 191.09V180.12M85.81 212.67V210.31M88.60 203.85V184.14M90.47 214.33V213.90M102.58 210.47V195.31M104.45 202.33V196.25M111.91 218.53V214.23M112.84 210.77V197.49M116.57 183.14V182.81M120.30 222.39V215.42M132.42 215.69V206.12M138.94 200.93V200.57M151.61 205.34V203.32M159.07 220.08V213.22M161.87 217.18V211.10M163.74 208.75V208.64M165.60 205.19V192.35M166.53 205.27V204.16M168.40 220.69V197.91M170.26 215.62V214.73M171.20 196.50V188.72M174.00 208.01V207.84M178.66 222.68V217.41M184.25 221.02V220.18M187.98 185.49V182.69M198.24 215.72V210.94M199.18 197.48V195.26M201.97 206.38V197.72M214.10 184.38V184.33M215.03 200.16V199.86M216.90 202.08V196.64M217.83 202.16V200.06M218.76 210.23V209.56M221.56 208.55V203.94M222.49 208.27V199.36M225.29 195.28V192.34M229.02 167.98V160.94M232.75 215.00V212.99M239.28 216.40V211.68M240.21 206.25V205.83M244.87 213.54V210.40M245.81 209.27V200.89M252.34 196.66V193.01M253.27 208.45V208.12" stroke="#20b2aa" stroke-width="1.052" fill="none"/>
<path d="M35.47 191.20V190.55M36.40 190.84V188.55M41.06 205.75V205.32M51.31 215.34V214.23M52.25 198.93V198.54M53.18 209.35V209.27M56.91 204.58V203.17M59.70 194.11V190.31M61.57 217.48V217.19M62.50 209.89V205.92M65.30 207.48V207.33M69.03 216.44V212.91M70.89 210.74V189.86M71.82 218.04V215.46M72.75 206.13V202.89M83.01 217.34V216.96M87.67 213.47V207.31M89.53 187.06V179.86M91.40 200.93V199.15M96.99 216.13V215.74M99.79 213.36V205.18M101.65 200.72V200.24M102.58 195.31V185.84M109.11 213.75V200.29M112.84 197.49V197.31M114.70 181.28V167.76M119.36 213.25V209.15M121.23 218.32V211.23M124.96 201.86V195.80M126.82 190.84V187.24M127.75 195.38V184.62M136.14 216.71V193.71M143.60 207.64V204.98M149.75 195.99V195.88M150.68 185.45V179.32M154.41 203.33V203.10M155.34 210.07V209.61M164.67 209.59V208.32M165.60 192.35V188.96M167.47 214.36V213.11M168.40 197.91V194.50M172.13 194.84V194.41M173.06 201.61V195.85M174.93 218.96V216.00M181.46 196.39V193.45M184.25 220.18V219.52M185.19 213.32V209.70M187.98 182.69V178.75M190.78 195.59V191.79M197.31 205.45V199.15M199.18 195.26V188.21M208.50 201.20V201.13M214.10 184.33V183.00M215.96 198.88V191.00M217.83 200.06V199.86M225.29 192.34V181.71M226.22 211.99V211.20M231.82 199.44V197.66M235.55 207.33V200.68M240.21 205.83V188.55M243.01 215.46V206.47M244.87 210.40V182.54M253.27 208.12V205.15" stroke="#808000" stroke-width="1.052" fill="none"/>
<path d="M35.47 190.55V189.99M39.19 191.32V188.45M40.13 197.25V195.69M44.79 193.89V192.99M45.72 207.24V206.01M52.25 196.46V196.04M54.11 179.52V179.08M55.04 200.88V200.28M55.97 210.73V201.06M56.91 203.08V198.60M58.77 198.93V195.63M65.30 207.33V205.21M67.16 212.53V212.50M69.03 211.85V191.67M73.69 193.46V190.40M74.62 208.61V193.10M78.35 213.09V209.06M87.67 207.31V204.70M88.60 183.04V181.17M98.86 186.77V185.36M106.31 180.13V162.03M110.04 196.65V188.01M111.91 214.23V166.41M118.43 213.42V193.51M124.96 195.80V194.27M134.28 202.96V202.83M135.21 181.87V181.46M141.74 211.87V211.45M142.67 214.98V208.25M143.60 192.77V182.44M144.53 215.97V215.75M147.88 166.50V158.21M153.48 207.89V200.73M159.07 213.22V210.34M160.01 209.25V208.92M160.94 215.80V209.34M161.87 208.39V201.11M166.53 203.71V195.47M168.40 193.22V192.54M178.66 207.07V200.61M180.52 191.82V191.34M181.46 190.43V190.28M186.12 204.72V201.93M189.85 217.56V214.11M201.97 196.37V195.09M204.77 185.92V175.41M207.57 212.24V198.65M209.43 175.20V175.17M211.30 211.93V201.41M212.23 208.13V192.71M214.10 183.00V180.89M216.90 182.11V173.15M220.63 203.17V195.28M221.56 190.29V179.12M222.49 194.63V188.40M224.36 178.12V176.31M226.22 207.71V204.03M230.89 201.45V201.43M231.82 196.89V196.64M234.62 186.13V177.88M236.48 178.99V178.93M239.28 211.68V209.46M244.87 177.61V170.39M246.74 200.11V196.07M247.67 194.01V193.51M251.40 207.48V187.04M252.34 189.68V189.55" stroke="#00fa9a" stroke-width="1.052" fill="none"/>
<path d="M35.47 189.99V189.64M36.40 173.99V172.87M40.13 194.73V193.74M42.92 195.60V195.48M53.18 189.41V169.33M58.77 195.63V194.56M60.64 194.58V193.12M65.30 199.92V197.75M66.23 171.89V162.55M69.03 191.67V190.36M71.82 211.04V207.55M75.55 196.25V176.08M77.42 214.01V213.26M78.35 209.06V209.03M79.28 173.83V172.09M82.08 191.34V162.01M85.81 197.61V190.45M92.33 167.62V158.64M95.13 213.73V212.58M96.06 202.33V202.23M101.65 192.92V192.48M111.91 162.07V161.95M113.77 202.89V190.14M115.64 197.52V191.91M120.30 203.20V201.37M126.82 186.49V185.26M129.62 174.83V169.35M137.08 201.95V170.59M140.81 195.17V188.13M141.74 208.30V204.61M143.60 180.93V179.02M149.75 193.11V188.70M150.68 173.65V173.58M153.48 183.71V174.05M154.41 199.88V177.29M156.28 209.92V208.43M157.21 185.63V185.34M158.14 195.13V190.39M160.01 208.92V208.70M163.74 194.64V189.01M168.40 189.14V189.06M171.20 177.78V173.90M172.13 181.73V181.58M173.06 191.71V182.81M174.93 212.14V204.09M176.79 183.35V180.42M180.52 190.78V184.04M184.25 200.59V198.30M187.05 199.24V198.59M188.92 205.87V205.22M195.45 190.23V190.02M200.11 192.87V187.64M213.17 191.25V190.02M215.03 190.07V175.89M216.90 162.63V159.42M223.42 197.01V187.58M239.28 208.28V194.85M240.21 188.55V166.41M242.08 181.05V179.12M243.94 190.35V189.52M248.61 172.30V171.36M249.54 167.24V166.12M253.27 201.50V183.76" stroke="#6a5acd" stroke-width="1.052" fill="none"/>
<path d="M35.47 189.64V189.47M37.33 189.83V189.48M39.19 171.98V168.69M43.86 203.62V192.22M44.79 189.01V172.59M45.72 185.93V177.47M48.52 207.60V174.44M49.45 204.67V202.24M53.18 161.95V159.01M54.11 178.33V175.94M59.70 174.95V156.25M60.64 192.91V192.64M61.57 194.90V191.98M64.36 192.65V179.52M68.09 197.75V192.58M69.96 201.75V199.93M72.75 192.73V185.83M76.48 162.07V154.39M87.67 192.70V181.79M88.60 172.35V170.74M93.26 152.52V149.98M95.13 202.38V200.41M96.06 201.59V199.70M103.52 198.66V181.17M107.25 177.01V174.92M111.91 161.17V161.10M112.84 197.31V195.38M114.70 156.45V154.89M115.64 190.84V177.60M120.30 201.37V194.99M121.23 188.29V183.19M122.16 170.48V166.56M125.89 191.27V188.64M130.55 193.34V193.07M134.28 163.03V157.38M141.74 202.73V201.35M148.81 180.74V179.40M152.54 161.84V154.39M155.34 184.48V184.44M158.14 184.33V181.52M165.60 163.22V162.20M166.53 193.80V191.27M168.40 189.06V182.17M170.26 211.44V177.45M171.20 171.37V166.43M172.13 172.32V164.29M180.52 153.92V152.55M188.92 203.94V203.37M190.78 191.38V183.30M191.72 182.61V143.00M196.38 172.36V158.06M198.24 191.16V184.34M201.04 162.42V162.36M203.84 175.45V172.76M207.57 178.54V173.46M208.50 179.14V175.66M209.43 171.21V165.79M210.37 174.42V173.65M211.30 193.06V159.16M212.23 181.40V181.19M213.17 160.57V160.09M215.03 170.41V168.27M225.29 173.02V147.78M226.22 199.69V197.56M227.15 160.08V146.84M229.02 159.58V151.84M229.95 167.91V162.91M232.75 190.77V185.03M233.68 179.03V150.38M234.62 175.25V173.58M239.28 193.92V180.86M240.21 164.26V162.30M241.14 163.49V161.09M248.61 171.36V169.50M250.47 181.37V176.48" stroke="#ff7f50" stroke-width="1.052" fill="none"/>
<path d="M35.47 189.47V157.32M38.26 178.47V168.14M40.13 191.33V190.84M41.06 190.23V190.10M42.92 179.88V177.86M45.72 177.47V169.97M54.11 175.94V172.33M55.97 180.13V170.04M56.91 179.41V176.23M64.36 179.52V177.26M65.30 170.48V163.32M66.23 162.42V152.05M67.16 194.86V191.98M70.89 173.04V168.68M71.82 196.00V195.59M74.62 161.30V159.44M79.28 154.43V152.10M80.21 168.05V165.58M86.74 200.73V181.29M95.13 200.41V196.08M96.99 209.11V201.32M97.92 190.03V170.10M99.79 184.86V179.68M100.72 198.73V198.32M104.45 185.01V184.99M109.11 160.87V160.14M110.04 169.82V166.92M113.77 158.99V154.50M115.64 177.60V177.40M116.57 178.32V164.05M117.50 190.85V184.14M121.23 183.19V177.95M122.16 166.56V152.24M124.03 191.80V150.70M128.69 193.03V183.33M130.55 193.07V192.15M132.42 182.81V182.79M133.35 196.48V195.98M136.14 187.47V180.14M137.08 144.96V144.07M144.53 192.52V187.69M154.41 176.73V173.95M157.21 185.34V184.95M161.87 194.51V193.62M162.80 185.23V182.03M164.67 196.54V187.00M166.53 191.27V180.51M174.93 198.86V198.16M178.66 187.05V186.16M180.52 152.55V150.70M182.39 197.14V192.80M186.12 199.66V198.35M188.92 203.37V201.82M194.51 185.94V155.86M197.31 171.09V170.74M198.24 184.34V172.87M201.04 162.36V159.11M209.43 165.79V165.77M215.96 171.67V170.88M216.90 158.04V156.71M222.49 169.78V159.31M229.95 162.91V160.31M235.55 194.38V192.52M237.41 152.96V152.57M239.28 180.86V180.46M243.94 168.33V165.65M246.74 188.33V185.63M255.13 188.75V173.10" stroke="#fa8072" stroke-width="1.052" fill="none"/>
<path d="M35.47 157.32V156.08M37.33 189.48V160.09M42.92 177.86V176.81M43.86 186.19V170.84M45.72 169.97V161.72M48.52 163.77V159.63M51.31 145.21V144.76M57.84 191.80V189.75M58.77 168.02V165.55M61.57 191.98V188.68M63.43 144.00V141.28M67.16 191.74V187.87M74.62 158.68V139.43M82.08 156.45V153.51M84.87 166.11V164.36M85.81 189.21V167.85M87.67 181.47V180.09M88.60 170.74V153.09M92.33 151.24V142.10M96.06 198.60V196.69M96.99 196.74V186.92M102.58 159.58V158.27M107.25 174.92V136.20M109.11 159.75V158.37M110.97 171.71V155.40M112.84 184.63V159.31M117.50 182.16V180.73M124.96 174.95V152.91M134.28 157.38V155.69M138.94 159.42V148.52M139.87 175.51V166.66M147.88 145.41V136.55M157.21 176.05V163.34M166.53 180.51V176.46M168.40 182.17V140.65M170.26 166.94V161.98M172.13 163.41V161.42M182.39 169.90V168.96M185.19 196.36V178.80M186.12 165.68V161.70M193.58 170.30V164.21M199.18 162.39V160.54M203.84 165.36V145.47M213.17 160.09V158.32M214.10 170.50V166.72M224.36 147.68V146.94M225.29 147.78V147.46M226.22 194.40V185.60M232.75 179.78V175.70M234.62 151.10V150.84M236.48 147.55V147.37M238.35 166.09V165.95M242.08 172.55V171.08M243.94 165.65V165.23M245.81 146.90V146.22M254.20 173.30V160.73" stroke="#ff6347" stroke-width="1.052" fill="none"/>
<path d="M35.47 156.08V145.13M41.06 185.23V159.62M44.79 172.59V149.58M52.25 160.54V155.16M55.97 143.01V139.12M56.91 175.17V154.96M62.50 195.47V155.20M69.96 174.65V174.50M72.75 180.07V176.36M73.69 181.57V142.60M75.55 171.36V147.22M77.42 196.92V160.60M83.01 171.21V159.70M91.40 163.14V158.90M93.26 149.98V147.52M96.06 196.69V155.06M100.72 175.00V152.41M101.65 175.93V175.33M104.45 182.36V144.26M105.38 160.88V137.48M108.18 148.44V137.65M110.04 165.36V160.97M111.91 149.77V138.68M114.70 153.66V139.79M117.50 180.73V142.19M124.03 150.70V145.51M130.55 187.30V136.46M132.42 182.79V164.87M134.28 155.69V145.88M137.08 144.07V141.71M138.94 148.52V139.39M141.74 174.06V159.38M143.60 167.13V160.80M147.88 136.55V136.49M149.75 179.38V146.95M151.61 164.82V160.89M158.14 181.52V159.07M160.01 179.63V157.27M165.60 162.09V137.07M175.86 169.54V155.12M178.66 184.15V173.63M180.52 150.70V144.89M186.12 161.70V143.26M187.98 144.80V137.53M190.78 156.60V156.10M194.51 155.86V138.95M195.45 174.74V146.86M197.31 170.74V170.40M201.04 156.27V154.82M209.43 159.32V158.50M210.37 172.50V167.74M211.30 143.58V142.82M212.23 173.33V172.60M213.17 158.32V154.42M215.96 170.88V156.46M216.90 156.71V156.43M217.83 180.32V173.71M221.56 165.24V155.29M225.29 147.46V147.27M228.09 161.54V154.17M236.48 147.37V144.77M237.41 152.08V151.34M241.14 144.39V144.11M244.87 153.39V145.06M246.74 167.86V162.06M249.54 156.73V153.79M251.40 157.93V157.63M253.27 177.55V176.07" stroke="#dc143c" stroke-width="1.052" fill="none"/>
<path d="M35.47 145.13V143.50M36.40 147.85V138.30M37.33 160.09V149.17M40.13 140.91V138.34M43.86 164.55V164.11M44.79 149.58V148.94M45.72 161.72V160.46M55.04 167.83V145.44M61.57 184.50V179.73M62.50 155.20V154.64M66.23 152.05V144.68M67.16 187.87V185.65M70.89 168.68V141.08M71.82 195.57V177.51M82.08 153.51V153.39M83.01 159.70V143.63M86.74 181.29V160.02M89.53 153.26V149.65M95.13 196.08V140.88M96.99 186.92V144.50M101.65 175.33V142.86M110.04 160.97V143.63M112.84 159.31V158.67M116.57 156.87V142.98M118.43 174.21V162.46M122.16 152.24V149.25M128.69 156.56V144.37M135.21 174.27V157.28M138.01 156.42V152.39M140.81 151.19V148.85M141.74 159.38V137.11M142.67 173.01V154.46M143.60 160.80V156.46M153.48 160.61V159.73M167.47 171.75V161.22M174.93 197.45V174.33M177.73 166.48V154.83M178.66 173.63V144.46M180.52 144.89V142.59M181.46 170.61V170.02M182.39 168.96V168.68M189.85 184.59V169.50M193.58 163.69V161.42M198.24 172.87V155.22M203.84 145.47V143.57M204.77 167.15V164.07M205.70 184.20V175.41M210.37 167.74V167.48M211.30 142.82V140.58M213.17 154.42V154.30M215.03 168.27V138.52M225.29 147.27V147.23M228.09 154.17V150.99M229.02 146.38V146.20M238.35 165.95V163.52M240.21 159.07V155.42M243.01 149.64V149.01M247.67 180.64V156.85M253.27 176.07V175.20" stroke="#ff0000" stroke-width="1.052" fill="none"/>
<path d="M36.40 206.66V199.94M36.40 199.94V199.75M37.33 208.37V201.04M38.26 209.91V206.45M38.26 206.45V204.78M39.19 211.29V202.20M40.13 212.54V209.09M41.06 213.67V206.09M41.06 206.09V206.06M41.99 214.69V209.37M42.92 215.60V207.14M43.86 216.43V213.00M44.79 217.18V212.09M45.72 217.85V209.09M47.58 219.00V217.81M47.58 217.81V215.89M48.52 219.49V217.56M48.52 217.56V217.41M50.38 220.33V215.66M52.25 221.02V218.22M53.18 221.31V217.73M54.11 221.58V220.05M55.04 221.82V218.62M55.97 222.03V212.23M56.91 222.22V218.26M57.84 222.40V220.81M58.77 222.56V214.19M58.77 214.19V213.27M59.70 222.70V218.86M60.64 222.83V221.24M61.57 222.94V218.76M61.57 218.76V217.93M63.43 223.14V221.23M64.36 223.22V219.34M66.23 215.13V214.80M69.96 223.58V220.85M70.89 223.62V218.66M71.82 223.66V222.02M72.75 223.69V208.15M73.69 223.72V219.43M73.69 219.43V219.32M74.62 223.75V214.32M75.55 224.00V219.72M76.48 224.00V222.44M77.42 224.00V222.70M78.35 224.00V218.25M78.35 218.25V218.11M79.28 224.00V217.49M80.21 224.00V222.89M80.21 222.89V214.52M81.14 224.00V215.18M82.08 224.00V211.88M82.08 211.88V203.76M83.01 224.00V218.66M83.94 224.00V219.69M84.87 224.00V219.38M84.87 219.38V204.72M85.81 224.00V218.46M88.60 224.00V209.52M89.53 224.00V215.38M90.47 224.00V215.47M91.40 224.00V219.62M93.26 224.00V222.28M94.19 224.00V215.12M95.13 224.00V221.71M95.13 221.71V221.49M96.06 224.00V222.23M96.99 224.00V218.27M97.92 224.00V222.17M98.86 224.00V219.23M100.72 224.00V217.85M101.65 224.00V214.53M103.52 224.00V214.44M105.38 224.00V206.86M105.38 206.86V192.19M106.31 224.00V219.66M107.25 224.00V218.12M108.18 224.00V216.02M108.18 216.02V215.53M110.04 224.00V218.13M110.04 218.13V217.71M110.97 224.00V214.67M112.84 224.00V217.05M113.77 224.00V220.38M114.70 224.00V219.12M114.70 219.12V181.28M115.64 224.00V216.86M116.57 224.00V220.52M119.36 224.00V215.86M120.30 224.00V222.39M121.23 218.56V218.35M122.16 224.00V220.19M123.09 224.00V221.31M124.03 224.00V220.44M124.03 220.44V213.83M124.96 215.16V213.49M125.89 218.21V209.28M126.82 216.35V210.69M127.75 224.00V221.48M128.69 220.70V215.14M129.62 224.00V208.33M130.55 224.00V220.39M130.55 220.39V213.00M131.48 224.00V220.34M132.42 224.00V222.37M133.35 224.00V222.68M134.28 224.00V217.87M134.28 217.87V205.20M135.21 224.00V219.16M135.21 219.16V215.83M136.14 224.00V216.73M137.08 224.00V217.59M138.01 224.00V221.43M138.94 224.00V219.30M139.87 224.00V222.33M140.81 224.00V214.34M142.67 224.00V220.65M143.60 224.00V207.64M144.53 224.00V216.16M148.81 194.50V189.56M149.75 204.19V197.83M150.68 205.04V194.48M151.61 213.36V205.34M153.48 218.29V211.30M154.41 219.81V210.79M155.34 220.93V217.28M156.28 221.75V216.90M157.21 222.35V207.06M157.21 207.06V203.18M158.14 222.79V217.36M158.14 217.36V217.03M159.07 223.12V221.63M160.01 223.35V219.24M161.87 223.65V218.89M162.80 223.74V209.90M162.80 209.90V207.47M163.74 223.81V217.78M163.74 217.78V212.22M164.67 223.86V221.32M167.47 223.95V217.24M167.47 217.24V214.97M168.40 223.96V221.32M169.33 223.97V214.40M170.26 223.98V220.42M170.26 220.42V220.34M171.20 223.98V218.02M172.13 223.99V216.61M174.00 217.76V216.60M174.93 224.00V219.57M176.79 218.77V216.23M177.73 224.00V214.47M179.59 224.00V220.36M180.52 216.45V202.28M181.46 224.00V211.13M182.39 224.00V217.37M182.39 217.37V214.23M184.25 224.00V221.25M185.19 214.79V213.57M186.12 224.00V218.82M187.98 224.00V211.90M189.85 224.00V220.91M190.78 224.00V220.92M190.78 220.92V199.16M191.72 224.00V216.93M191.72 216.93V211.08M192.65 224.00V215.96M193.58 224.00V207.75M193.58 207.75V181.73M194.51 218.12V214.55M196.38 224.00V207.31M197.31 224.00V205.45M199.18 224.00V216.70M200.11 224.00V217.05M202.91 224.00V219.61M203.84 224.00V216.16M203.84 216.16V216.10M204.77 224.00V211.03M205.70 220.67V209.23M206.64 224.00V207.76M207.57 217.84V215.69M208.50 224.00V210.55M209.43 224.00V212.93M211.30 224.00V222.07M213.17 224.00V212.16M213.17 212.16V211.73M214.10 224.00V212.14M214.10 212.14V192.17M215.03 224.00V220.80M215.96 224.00V216.04M216.90 224.00V202.08M217.83 224.00V215.86M218.76 224.00V213.70M219.69 224.00V214.72M222.49 224.00V210.62M223.42 224.00V216.54M224.36 224.00V213.18M224.36 213.18V181.67M225.29 224.00V211.54M225.29 211.54V210.41M226.22 224.00V220.68M227.15 224.00V217.46M229.02 224.00V210.03M229.95 215.90V212.28M230.89 224.00V215.10M231.82 224.00V205.77M232.75 224.00V216.80M233.68 224.00V221.11M234.62 224.00V216.59M235.55 224.00V220.84M235.55 220.84V209.75M236.48 224.00V209.95M236.48 209.95V179.35M237.41 224.00V201.33M238.35 224.00V209.60M238.35 209.60V203.82M239.28 224.00V221.80M240.21 224.00V215.43M241.14 217.89V216.51M243.01 224.00V216.08M243.01 216.08V215.46M243.94 224.00V214.04M244.87 224.00V213.54M245.81 224.00V212.49M246.74 224.00V210.44M247.67 224.00V210.07M248.61 224.00V205.50M250.47 224.00V206.73M251.40 221.29V213.77M252.34 224.00V207.79M252.34 207.79V207.31M253.27 224.00V215.04M253.27 215.04V208.45M255.13 224.00V205.44" stroke="#6b8e23" stroke-width="1.052" fill="none"/>
<path d="M36.40 199.75V190.84M37.33 198.71V196.19M38.26 204.14V203.30M45.72 208.96V208.18M46.65 198.45V184.15M55.04 212.84V212.52M65.30 208.00V207.48M66.23 194.21V182.56M68.09 215.55V213.06M69.96 216.03V211.69M70.89 211.66V210.74M73.69 216.33V207.94M79.28 199.00V179.97M83.94 212.07V195.16M87.67 216.04V213.47M89.53 202.82V187.06M93.26 210.78V196.31M95.13 221.49V216.98M104.45 211.11V202.33M106.31 214.73V185.76M110.97 196.73V195.68M112.84 216.38V210.77M115.64 216.45V213.70M119.36 215.73V213.25M123.09 219.10V214.95M124.03 210.12V205.39M124.96 213.42V201.86M126.82 191.03V190.84M128.69 213.37V212.93M133.35 218.83V214.03M135.21 201.89V191.90M137.08 203.12V202.17M138.01 220.18V197.02M147.88 183.28V178.65M164.67 209.98V209.59M166.53 209.34V205.27M169.33 204.15V188.82M173.06 206.30V201.61M175.86 208.52V207.14M183.32 212.63V211.33M201.04 214.40V198.85M201.97 206.87V206.38M203.84 215.67V210.84M205.70 203.60V201.79M206.64 195.40V195.36M208.50 203.44V201.20M213.17 204.22V197.58M215.03 201.13V200.16M215.96 206.05V198.88M220.63 203.84V203.17M228.09 208.70V206.00M229.02 171.45V167.98M231.82 200.82V199.44M236.48 179.31V178.99M237.41 185.18V180.85M247.67 200.30V199.76M248.61 204.49V195.19M250.47 206.14V206.05M251.40 209.41V208.90" stroke="#b08078" stroke-width="1.052" fill="none"/>
<path d="M36.40 188.55V176.15M40.13 206.71V197.25M44.79 200.96V193.89M47.58 212.43V211.79M51.31 214.23V194.91M52.25 198.54V196.46M53.18 209.27V202.83M56.91 203.17V203.08M57.84 204.45V197.89M60.64 204.73V200.74M61.57 217.19V215.25M68.09 213.06V203.57M69.03 212.91V211.85M80.21 209.75V207.62M85.81 210.31V205.07M86.74 209.78V209.63M96.06 213.68V211.83M98.86 195.71V191.17M104.45 196.25V186.85M106.31 185.76V180.13M108.18 215.23V210.96M122.16 204.16V196.90M128.69 212.93V210.66M133.35 214.03V212.04M139.87 222.27V214.32M143.60 204.98V204.44M147.88 178.65V170.90M151.61 203.32V203.21M167.47 213.11V211.48M171.20 188.72V186.90M172.13 194.41V190.43M174.00 207.84V201.71M175.86 207.14V205.30M176.79 216.23V214.10M180.52 193.57V191.82M182.39 207.90V203.49M183.32 211.33V208.44M184.25 219.52V209.04M188.92 210.80V207.21M192.65 208.49V206.74M196.38 182.98V180.59M197.31 199.15V195.52M202.91 208.83V187.49M207.57 215.69V213.04M210.37 187.58V187.39M215.03 199.86V196.75M216.90 196.64V196.19M217.83 199.86V194.93M223.42 216.54V210.72M227.15 188.33V185.05M238.35 200.07V195.19M243.01 206.47V199.24M244.87 182.54V177.61M248.61 195.19V186.36" stroke="#1572c4" stroke-width="1.052" fill="none"/>
<path d="M36.40 176.15V173.99M38.26 203.30V203.11M40.13 195.69V194.73M41.99 156.28V154.15M42.92 197.58V195.60M44.79 190.75V190.39M46.65 180.03V179.39M47.58 207.45V203.00M50.38 204.55V189.30M56.91 198.60V198.59M67.16 212.50V202.74M74.62 176.90V171.95M87.67 204.70V202.92M88.60 181.17V172.86M94.19 180.82V180.33M96.06 206.52V204.75M99.79 199.39V191.88M101.65 195.63V192.92M103.52 206.45V198.66M104.45 186.85V186.84M109.11 200.29V165.11M110.04 185.05V180.43M119.36 205.69V199.28M120.30 212.30V212.25M124.96 194.27V193.43M138.01 197.02V190.17M143.60 182.44V182.09M150.68 178.25V176.69M151.61 202.93V197.21M156.28 210.46V209.92M158.14 196.91V196.27M168.40 192.54V191.58M180.52 191.34V190.78M183.32 206.64V206.50M187.05 199.43V199.24M187.98 177.39V175.77M189.85 211.73V201.79M198.24 203.18V200.00M201.04 169.37V169.09M208.50 201.13V194.89M215.96 191.00V181.81M217.83 188.96V187.44M218.76 208.35V204.00M228.09 201.78V192.60M233.68 202.20V201.70M237.41 165.06V163.72M241.14 207.57V185.33M243.01 198.96V198.69M249.54 181.32V170.18M253.27 202.59V202.19" stroke="#00ced1" stroke-width="1.052" fill="none"/>
<path d="M36.40 172.87V147.85M39.19 168.69V167.86M41.99 146.81V144.79M43.86 192.22V192.10M47.58 192.57V181.08M55.04 178.90V178.18M55.97 170.04V143.31M59.70 156.25V147.69M63.43 147.16V144.00M69.96 199.93V175.81M72.75 185.83V180.07M74.62 159.44V159.33M81.14 191.59V191.22M89.53 159.23V154.04M91.40 167.32V165.38M94.19 147.84V144.91M97.92 170.10V159.39M102.58 161.30V160.17M104.45 184.99V184.65M112.84 195.38V184.63M127.75 165.66V164.98M128.69 183.33V157.94M131.48 199.78V198.10M135.21 178.24V174.98M136.14 180.14V157.16M140.81 152.47V151.19M142.67 193.63V173.01M143.60 174.15V168.35M147.88 155.37V145.41M150.68 170.43V164.04M152.54 154.39V147.19M153.48 168.96V160.61M160.01 205.78V191.98M160.94 207.76V205.86M172.13 164.29V163.41M174.00 183.65V158.31M176.79 176.31V173.54M177.73 193.10V166.48M178.66 186.16V184.15M179.59 175.72V174.10M183.32 203.59V202.17M185.19 204.49V196.36M187.98 154.61V149.74M192.65 187.38V183.27M201.97 191.07V188.35M204.77 171.56V167.40M211.30 159.16V143.58M220.63 176.58V173.29M229.02 151.84V151.40M229.95 160.31V159.60M230.89 155.55V153.28M231.82 196.64V175.10M232.75 185.03V179.78M238.35 171.96V167.92M242.08 175.66V172.55M244.87 156.28V154.09M246.74 185.63V174.98M250.47 176.48V175.73M254.20 193.88V176.78" stroke="#ff1493" stroke-width="1.052" fill="none"/>
<path d="M37.33 201.03V198.71M38.26 204.22V204.18M40.13 209.09V206.71M41.99 209.37V187.68M43.86 212.51V212.50M49.45 209.78V209.31M60.64 221.24V219.97M62.50 220.89V209.89M65.30 208.53V208.00M69.96 220.63V216.72M76.48 222.44V218.67M82.08 203.76V200.74M83.01 218.66V218.08M83.94 219.69V219.44M87.67 216.24V216.04M94.19 182.98V180.90M96.06 214.74V213.68M103.52 214.44V209.66M104.45 221.69V211.11M107.25 209.87V188.96M108.18 215.53V215.23M124.96 213.49V213.42M129.62 207.05V206.94M130.55 212.80V200.45M137.08 217.02V216.07M141.74 214.25V211.87M150.68 194.48V185.45M155.34 211.08V210.12M156.28 216.29V214.70M161.87 217.42V217.18M163.74 209.40V208.75M164.67 220.55V216.28M165.60 215.26V207.95M172.13 202.77V194.84M174.00 216.60V208.01M177.73 211.93V211.88M180.52 196.14V193.57M184.25 221.25V221.02M186.12 211.99V207.30M190.78 199.16V195.59M195.45 221.45V196.83M196.38 207.22V182.98M198.24 216.53V215.72M200.11 216.27V211.92M209.43 209.65V208.14M229.02 191.33V187.78M229.95 198.99V184.25M230.89 215.07V209.57M231.82 205.77V204.99M232.75 216.80V215.00M233.68 217.17V215.96M237.41 201.33V200.69M239.28 221.80V216.40M243.94 206.02V203.75M245.81 209.33V209.27M247.67 210.07V202.71M251.40 213.77V209.41M254.20 217.95V212.51" stroke="#2e8b57" stroke-width="1.052" fill="none"/>
<path d="M37.33 196.19V191.12M41.99 154.15V147.75M45.72 197.32V187.64M47.58 199.98V192.57M56.91 198.59V191.13M62.50 203.37V196.76M63.43 151.21V147.16M69.03 190.36V179.33M71.82 207.55V196.53M83.94 174.94V152.98M86.74 207.38V200.73M89.53 171.99V159.23M91.40 173.47V169.63M94.19 177.38V174.43M98.86 181.94V176.47M101.65 182.00V177.73M102.58 179.42V166.10M111.91 161.95V161.23M113.77 190.14V187.21M114.70 165.23V158.43M122.16 192.75V182.67M131.48 210.70V200.88M132.42 198.48V182.82M138.01 176.73V174.31M139.87 186.88V181.42M143.60 176.57V174.70M151.61 183.48V172.10M158.14 184.97V184.60M159.07 202.52V173.41M160.94 209.34V207.80M163.74 165.94V159.92M169.33 177.11V174.53M174.93 204.09V201.96M179.59 199.75V181.13M201.04 169.09V162.42M202.91 184.66V173.75M204.77 172.98V171.56M205.70 201.79V195.88M217.83 187.44V184.99M225.29 181.71V173.02M229.02 160.94V160.45M230.89 195.59V163.80M237.41 162.65V157.81M247.67 192.62V191.87M251.40 187.04V163.91" stroke="#6a0d83" stroke-width="1.052" fill="none"/>
<path d="M37.33 191.12V189.83M38.26 181.85V178.47M41.06 197.18V190.23M49.45 205.67V204.67M52.25 180.51V160.54M55.04 186.43V178.90M57.84 193.04V192.47M58.77 180.78V168.02M70.89 189.86V173.04M74.62 162.19V161.30M77.42 208.71V197.91M79.28 169.84V154.43M84.87 167.90V166.11M87.67 194.54V192.70M91.40 167.44V167.32M99.79 185.23V184.86M102.58 163.96V161.30M109.11 163.90V160.87M110.97 188.64V174.45M114.70 158.43V156.45M116.57 182.36V178.32M117.50 195.82V190.85M118.43 193.51V190.13M124.96 187.73V183.93M125.89 197.81V191.27M127.75 166.20V165.66M131.48 200.69V199.78M139.87 181.42V175.51M140.81 166.79V152.47M141.74 204.02V202.73M147.88 155.59V155.37M149.75 181.94V179.38M152.54 170.20V161.84M153.48 170.37V168.96M156.28 208.43V207.66M158.14 184.60V184.33M159.07 173.41V173.04M165.60 165.71V163.22M167.47 193.94V186.45M169.33 174.53V173.76M170.26 214.57V211.44M171.20 172.93V171.37M172.13 180.70V172.32M174.93 201.70V198.86M176.79 176.84V176.31M177.73 196.90V193.10M179.59 181.13V175.72M188.92 204.64V203.94M189.85 185.13V185.09M200.11 183.34V175.51M205.70 195.88V184.78M206.64 186.16V160.75M212.23 192.71V181.40M213.17 161.17V160.57M214.10 172.76V170.50M215.96 171.68V171.67M221.56 179.12V179.03M222.49 174.62V169.78M228.09 181.56V161.54M237.41 155.13V152.96M242.08 177.80V175.66M245.81 172.36V152.09M246.74 188.45V188.33M252.34 181.07V171.01M255.13 189.97V188.75" stroke="#ffa500" stroke-width="1.052" fill="none"/>
<path d="M38.26 204.18V204.14M41.06 206.06V205.75M41.99 179.85V176.33M43.86 212.50V210.25M44.79 208.39V200.96M47.58 215.89V212.88M48.52 216.15V212.85M50.38 215.66V207.61M51.31 218.99V215.34M56.91 207.62V204.58M58.77 207.95V202.22M61.57 217.69V217.48M64.36 212.82V211.24M66.23 196.05V194.21M70.89 216.98V211.66M71.82 218.43V218.04M74.62 214.15V210.28M80.21 212.48V209.75M83.01 218.08V217.34M83.94 219.44V212.07M85.81 216.92V212.67M96.99 218.04V216.13M101.65 203.35V200.72M116.57 220.52V183.14M118.43 218.43V214.68M119.36 215.86V215.73M121.23 218.35V218.32M122.16 213.92V204.16M126.82 193.76V191.03M128.69 214.68V213.37M130.55 200.45V198.68M135.21 215.83V201.89M136.14 216.73V216.71M137.08 212.54V203.12M139.87 222.33V222.27M157.21 185.70V185.63M160.01 209.82V209.25M160.94 218.95V217.02M162.80 207.47V207.21M165.60 207.95V205.19M168.40 221.32V220.69M173.06 212.17V206.30M175.86 221.24V208.52M185.19 213.57V213.32M186.12 205.22V204.89M187.05 219.81V212.68M187.98 211.90V185.49M194.51 214.55V208.22M195.45 196.83V190.23M203.84 216.10V215.67M205.70 203.76V203.60M209.43 208.14V198.63M210.37 190.99V187.58M211.30 217.24V216.78M215.03 214.65V201.13M222.49 210.62V208.27M229.02 187.78V171.45M230.89 209.57V204.07M233.68 215.96V202.20M235.55 208.71V207.33M236.48 179.35V179.31M237.41 200.69V185.18M249.54 183.58V181.32M255.13 198.74V195.98" stroke="#32cd32" stroke-width="1.052" fill="none"/>
<path d="M38.26 203.11V184.28M39.19 182.83V180.13M45.72 205.43V197.32M46.65 179.39V177.63M50.38 186.74V177.01M55.04 190.88V186.43M60.64 193.12V192.91M63.43 172.08V151.21M65.30 172.13V170.48M72.75 197.09V196.76M79.28 172.09V169.84M82.08 160.44V156.45M83.01 188.80V178.80M95.13 212.58V210.94M100.72 201.45V198.73M106.31 156.57V151.98M108.18 168.67V168.42M110.04 180.43V179.23M121.23 205.19V197.14M124.03 201.31V197.27M126.82 185.26V179.97M128.69 204.67V202.75M130.55 194.54V194.27M133.35 200.41V196.48M134.28 201.55V163.03M137.08 170.59V151.68M138.01 188.07V176.73M138.94 187.99V162.42M148.81 184.78V183.73M152.54 188.22V170.20M153.48 174.05V170.37M155.34 209.06V208.89M160.01 208.69V208.51M163.74 189.01V165.94M165.60 188.96V165.71M166.53 195.47V193.80M167.47 204.82V201.93M169.33 183.86V177.11M172.13 181.58V180.70M173.06 182.81V172.49M174.00 186.78V183.65M178.66 187.82V187.05M180.52 184.04V183.31M187.05 198.59V157.27M187.98 170.32V163.65M190.78 191.79V191.38M198.24 198.21V191.35M200.11 186.08V184.46M201.97 195.09V191.55M204.77 175.41V172.98M207.57 190.65V187.31M208.50 193.92V184.43M209.43 173.07V171.21M213.17 190.02V161.90M219.69 172.10V165.39M220.63 186.35V179.81M222.49 181.13V174.69M228.09 188.52V184.98M236.48 178.93V177.92M237.41 163.72V162.65M238.35 172.34V171.97M240.21 166.41V164.56M241.14 166.67V166.62M243.01 179.73V173.63M243.94 178.74V174.36" stroke="#9400d3" stroke-width="1.052" fill="none"/>
<path d="M38.26 184.28V181.85M43.86 204.35V203.62M44.79 190.39V189.01M54.11 178.92V178.33M56.91 191.13V188.20M57.84 195.68V195.52M59.70 175.80V175.04M64.36 203.18V192.65M66.23 162.55V162.42M67.16 198.47V195.10M69.96 202.95V201.75M75.55 176.08V171.36M76.48 171.97V167.97M77.42 213.26V209.23M78.35 207.89V207.45M80.21 198.06V177.54M81.14 191.94V191.59M83.01 178.80V177.98M90.47 203.05V182.87M92.33 158.64V151.24M94.19 172.57V147.84M99.79 191.88V185.23M101.65 177.73V176.82M102.58 166.10V163.96M104.45 186.84V185.01M105.38 190.34V188.96M108.18 167.51V165.12M109.11 165.11V163.90M110.04 179.23V169.82M113.77 187.21V159.81M121.23 197.14V188.29M122.16 182.67V170.48M123.09 198.75V154.84M124.96 191.24V190.64M137.08 151.68V151.52M138.01 174.31V173.73M142.67 194.86V193.63M143.60 174.70V174.15M154.41 177.29V176.73M155.34 205.86V193.37M162.80 193.35V185.23M163.74 154.70V152.86M173.06 172.49V171.99M174.93 201.96V201.70M175.86 185.17V184.55M181.46 174.83V171.02M184.25 198.30V188.01M198.24 191.35V191.16M200.11 184.46V183.34M201.97 191.55V191.07M203.84 184.12V175.45M207.57 187.31V185.52M208.50 184.43V179.14M213.17 161.90V161.17M218.76 197.50V197.09M220.63 179.81V176.58M224.36 176.31V176.29M227.15 161.03V160.08M228.09 184.89V181.56M229.02 160.45V159.58M233.68 197.31V179.03M238.35 171.97V171.96M242.08 179.12V177.91M246.74 190.34V188.45M252.34 189.55V181.07M255.13 192.39V189.97" stroke="#ff00ff" stroke-width="1.052" fill="none"/>
<path d="M38.26 168.14V161.53M39.19 167.86V147.37M42.92 176.46V168.47M51.31 143.91V143.79M54.11 165.11V136.27M57.84 189.75V179.33M62.50 154.64V152.50M64.36 167.79V167.46M68.09 192.58V184.75M78.35 204.05V182.71M80.21 156.87V153.88M86.74 145.15V144.25M90.47 167.25V147.73M91.40 158.90V140.36M93.26 142.97V141.67M99.79 176.80V166.41M103.52 149.46V143.65M106.31 145.14V138.24M109.11 158.37V153.33M110.97 155.40V140.85M112.84 158.67V155.97M113.77 154.50V142.05M118.43 162.46V147.90M119.36 163.42V149.60M120.30 178.67V151.14M121.23 164.74V146.39M125.89 188.08V139.31M126.82 168.78V139.82M127.75 164.98V159.40M128.69 144.37V143.40M132.42 164.87V144.40M135.21 157.28V156.41M150.68 160.37V140.77M152.54 147.19V141.36M156.28 187.91V185.88M162.80 182.03V136.22M170.26 161.86V160.93M172.13 152.15V146.50M174.00 144.81V142.73M176.79 166.68V159.60M179.59 153.87V142.11M183.32 200.69V184.71M184.25 184.46V139.75M185.19 178.80V138.68M186.12 143.26V142.79M188.92 186.33V162.26M190.78 156.10V155.10M196.38 158.06V152.85M197.31 170.40V169.85M199.18 160.54V160.31M200.11 175.51V175.00M201.97 182.06V178.30M209.43 155.67V155.33M211.30 140.58V136.70M214.10 161.42V161.31M219.69 163.68V156.91M222.49 159.31V155.91M224.36 146.77V144.95M226.22 178.13V153.01M227.15 146.84V145.14M229.95 154.69V152.90M231.82 161.32V160.77M234.62 150.84V148.41M235.55 150.60V138.23M242.08 169.30V155.40M250.47 159.30V158.76M251.40 157.63V151.18M252.34 166.03V157.86M255.13 171.74V167.31" stroke="#8b0000" stroke-width="1.052" fill="none"/>
<path d="M39.19 191.73V191.32M42.92 204.81V202.07M45.72 207.61V207.24M47.58 211.79V207.45M54.11 183.01V179.52M55.97 212.23V210.73M58.77 200.83V198.93M60.64 200.74V194.58M61.57 215.25V212.96M63.43 177.45V172.08M67.16 213.97V212.53M68.09 203.57V203.41M69.96 211.69V209.72M72.75 202.89V200.53M73.69 196.14V193.46M76.48 180.86V175.70M79.28 179.88V179.38M81.14 214.60V209.53M83.01 193.82V192.56M83.94 195.16V178.40M89.53 179.86V171.99M93.26 196.31V193.65M94.19 180.90V180.82M95.13 216.98V213.73M96.06 209.42V206.52M98.86 191.17V186.77M100.72 209.57V208.18M103.52 209.66V206.45M113.77 212.04V210.49M115.64 213.70V206.74M118.43 213.48V213.42M119.36 206.86V205.69M130.55 194.57V194.54M131.48 218.61V217.38M135.21 191.90V181.87M140.81 208.12V201.29M148.81 185.70V184.78M149.75 195.88V194.90M150.68 179.32V178.81M152.54 188.81V188.25M156.28 214.67V212.24M161.87 211.10V208.39M166.53 204.12V203.71M167.47 211.48V205.17M170.26 214.73V214.57M173.06 192.88V191.71M174.00 187.25V186.78M174.93 214.33V214.31M175.86 197.34V186.34M178.66 217.41V207.07M179.59 207.21V200.12M185.19 209.70V204.93M192.65 206.74V204.92M193.58 181.49V180.80M194.51 202.41V201.40M198.24 209.67V203.18M204.77 194.99V185.92M206.64 195.01V194.43M207.57 213.01V212.24M209.43 195.77V175.20M210.37 187.39V182.62M221.56 203.79V190.29M222.49 196.16V194.63M224.36 179.81V178.12M226.22 210.78V207.71M232.75 212.99V203.36M234.62 194.58V186.13M243.94 203.75V190.35M245.81 200.89V199.92M251.40 208.14V207.48M252.34 189.73V189.68M253.27 205.15V202.59" stroke="#ffd700" stroke-width="1.052" fill="none"/>
<path d="M39.19 188.45V187.99M41.06 204.72V202.83M42.92 202.07V197.58M43.86 210.25V204.84M44.79 192.99V190.75M45.72 206.01V205.58M46.65 181.41V180.03M54.11 179.08V178.92M55.97 201.06V200.85M66.23 182.56V174.03M71.82 215.46V212.83M74.62 193.10V176.90M76.48 175.70V171.97M81.14 209.53V193.54M82.08 194.08V191.34M83.94 178.40V174.94M91.40 199.15V182.02M93.26 193.65V190.28M97.92 211.55V190.03M99.79 200.90V199.39M106.31 162.03V156.57M110.04 188.01V185.05M115.64 206.74V197.52M116.57 182.81V182.36M120.30 212.89V212.30M123.09 206.55V201.06M128.69 210.66V204.67M129.62 178.95V174.83M131.48 217.38V215.70M137.08 202.17V201.95M139.87 214.32V213.59M142.67 208.25V195.61M144.53 215.75V194.77M147.88 158.21V155.59M149.75 194.90V193.11M150.68 178.81V178.25M156.28 212.24V210.46M159.07 210.34V207.63M161.87 201.11V198.90M162.80 207.21V195.67M163.74 208.20V204.33M171.20 182.55V180.35M172.13 189.05V181.73M174.93 214.31V212.41M184.25 202.36V201.25M187.05 210.32V199.43M187.98 178.75V177.39M188.92 206.35V205.89M189.85 214.11V211.73M197.31 195.52V177.99M200.11 210.21V196.29M201.04 180.21V169.37M202.91 187.49V184.66M206.64 194.43V187.87M207.57 198.65V193.74M209.43 175.17V173.07M213.17 193.85V191.25M216.90 173.15V163.47M217.83 194.93V188.96M220.63 195.28V186.35M226.22 204.03V202.11M227.15 163.40V161.03M228.09 206.00V201.78M232.75 203.36V191.73M234.62 177.88V175.25M242.08 189.13V181.05M245.81 199.92V177.42M247.67 193.51V192.87M250.47 206.05V197.39M254.20 207.97V193.88" stroke="#228b22" stroke-width="1.052" fill="none"/>
<path d="M39.19 187.99V183.44M41.06 202.83V198.75M49.45 209.31V207.90M51.31 176.78V172.17M52.25 196.04V193.77M53.18 200.63V189.41M55.04 200.28V199.73M57.84 196.70V195.68M66.23 174.03V171.89M67.16 202.74V201.93M69.96 209.72V208.91M71.82 212.43V211.04M72.75 200.53V197.76M77.42 216.41V214.01M79.28 175.50V173.83M85.81 203.49V197.61M87.67 202.92V194.54M90.47 213.73V203.05M92.33 203.50V167.62M96.06 204.75V202.33M108.18 201.19V196.10M117.50 197.31V195.82M120.30 212.25V203.20M121.23 206.73V205.19M122.16 192.78V192.75M126.82 187.24V186.49M131.48 214.52V210.70M135.21 181.46V180.25M138.94 190.70V187.99M139.87 213.59V186.88M140.81 201.29V195.17M143.60 182.09V180.93M150.68 176.69V173.65M159.07 207.63V202.52M163.74 204.33V194.64M164.67 207.29V206.48M169.33 188.82V183.86M171.20 180.35V177.78M174.93 212.41V212.14M181.46 176.27V174.83M183.32 206.47V204.21M184.25 201.25V200.59M185.19 204.93V204.51M188.92 205.89V205.87M189.85 201.79V201.29M191.72 203.20V201.82M193.58 180.80V178.71M198.24 200.00V198.21M200.11 196.29V192.87M206.64 187.87V187.84M211.30 201.41V193.06M215.03 196.75V190.07M216.90 163.47V162.63M219.69 174.40V172.10M222.49 188.40V183.50M228.09 192.60V189.22M230.89 201.36V195.97M239.28 209.46V208.28M241.14 185.33V167.28M250.47 197.39V183.86M253.27 202.06V201.50M255.13 193.33V192.39" stroke="#0a8268" stroke-width="1.052" fill="none"/>
<path d="M39.19 183.44V182.83M40.13 193.74V191.33M42.92 195.48V185.80M50.38 189.30V186.74M53.18 169.33V161.95M55.04 199.73V190.88M55.97 200.85V180.13M58.77 194.56V194.16M59.70 178.46V175.80M61.57 212.96V210.71M62.50 203.87V203.37M65.30 197.75V172.13M69.96 208.91V202.95M72.75 197.76V197.09M73.69 190.40V187.27M78.35 209.03V208.53M82.08 162.01V160.44M88.60 172.86V172.35M93.26 187.82V153.49M96.06 202.23V201.87M98.86 185.36V181.94M100.72 206.62V201.45M101.65 192.48V182.00M108.18 196.10V168.67M114.70 165.27V165.23M119.36 199.28V197.57M123.09 201.06V198.75M124.96 193.43V191.24M135.21 180.25V179.34M138.01 190.17V188.07M140.81 188.13V166.79M141.74 204.61V204.42M142.67 195.61V194.86M143.60 179.02V176.57M149.75 188.70V182.13M151.61 197.21V183.48M152.54 188.25V188.22M158.14 190.39V184.97M164.67 206.48V196.54M176.79 180.42V180.15M177.73 198.64V196.90M178.66 200.61V187.82M182.39 203.17V197.14M183.32 204.21V203.59M187.98 175.77V170.32M188.92 205.22V204.64M191.72 201.82V182.61M192.65 204.92V187.38M193.58 178.71V171.23M195.45 190.02V186.80M199.18 188.21V179.53M200.11 187.64V186.08M203.84 189.08V184.12M208.50 194.89V193.92M216.90 159.42V159.14M222.49 183.50V181.13M223.42 187.58V176.26M228.09 189.22V188.52M230.89 195.97V195.59M232.75 191.73V190.77M233.68 201.70V197.31M238.35 173.45V172.34M241.14 167.28V166.67M243.94 189.52V178.74M247.67 192.87V192.62M249.54 166.12V165.76M253.27 183.76V177.55" stroke="#8a2be2" stroke-width="1.052" fill="none"/>
<path d="M39.19 180.13V171.98M42.92 185.80V179.88M45.72 187.64V185.93M46.65 177.63V169.90M58.77 194.16V180.78M61.57 210.71V206.13M67.16 201.93V198.47M69.03 179.33V165.77M71.82 196.53V196.00M73.69 187.27V186.48M74.62 168.36V162.19M78.35 208.53V207.89M80.21 201.33V198.06M81.14 193.54V191.94M83.94 152.98V151.68M94.19 174.43V172.57M95.13 210.94V202.38M96.06 201.87V201.59M96.99 212.88V209.11M106.31 151.98V145.14M107.25 185.72V182.49M108.18 168.42V167.51M111.91 161.23V161.17M119.36 197.57V197.27M124.03 197.27V193.58M130.55 194.27V193.34M131.48 200.88V200.69M135.21 179.34V178.24M144.53 194.77V192.52M148.81 183.73V182.36M150.68 173.58V170.43M155.34 208.89V205.86M160.94 207.80V207.76M161.87 198.90V194.51M163.74 159.92V154.70M167.47 201.93V193.94M171.20 173.90V172.93M175.86 186.34V185.17M185.19 204.51V204.49M187.05 157.27V155.13M187.98 163.65V154.61M189.85 201.29V198.86M194.51 201.40V190.33M210.37 180.75V180.27M214.10 180.89V172.76M215.03 175.89V172.70M215.96 181.81V171.68M216.90 159.14V158.14M217.83 184.99V182.61M222.49 174.69V174.62M228.09 184.98V184.89M230.89 163.80V155.55M237.41 157.81V155.13M239.28 194.85V193.92M241.14 166.62V163.49M243.94 174.36V168.33M244.87 170.39V156.38M247.67 191.87V188.87M249.54 165.76V161.55" stroke="#8b008b" stroke-width="1.052" fill="none"/>
<path d="M40.13 190.84V140.91M41.99 144.79V143.28M43.86 192.10V186.19M49.45 202.24V187.76M51.31 145.28V145.21M54.11 172.33V165.11M56.91 176.23V175.17M57.84 192.47V191.80M60.64 192.64V179.74M69.03 165.75V155.52M73.69 186.48V181.57M74.62 159.33V158.68M77.42 197.91V196.92M80.21 165.58V159.74M81.14 189.34V183.53M83.94 146.13V138.16M90.47 169.74V167.25M91.40 165.38V163.14M96.99 201.32V196.74M99.79 178.03V177.62M104.45 182.38V182.36M108.18 165.12V164.79M109.11 160.14V159.75M111.91 161.10V149.77M116.57 163.06V156.87M119.36 196.51V163.42M120.30 189.45V178.67M126.82 179.97V168.78M130.55 192.15V187.30M138.01 173.73V156.42M154.41 173.95V172.45M156.28 188.84V187.91M160.94 205.86V190.71M164.67 187.00V150.68M169.33 173.64V164.64M175.86 184.55V169.54M182.39 184.14V169.90M183.32 202.17V200.69M184.25 187.22V184.46M186.12 197.59V165.68M187.05 149.46V148.46M190.78 183.30V156.60M201.04 159.11V156.27M201.97 186.64V182.06M204.77 167.40V167.15M205.70 184.78V184.20M208.50 175.66V161.08M212.23 180.10V173.48M218.76 197.09V171.69M219.69 165.39V163.68M220.63 173.29V170.45M221.56 179.03V167.23M226.22 197.56V194.40M236.48 165.20V147.55M239.28 180.46V178.12M241.14 161.09V144.39M245.81 152.09V146.90M249.54 161.54V156.73" stroke="#da70d6" stroke-width="1.052" fill="none"/>
<path d="M41.06 205.32V204.72M41.99 176.33V156.28M42.92 207.14V204.81M48.52 212.85V207.60M50.38 207.61V204.55M51.31 194.91V176.78M53.18 201.84V200.63M54.11 193.30V183.01M55.04 201.91V200.88M59.70 190.31V178.46M62.50 205.92V203.98M64.36 211.07V208.30M74.62 210.28V208.61M78.35 215.98V213.09M83.01 216.96V193.82M86.74 209.63V208.00M96.06 211.83V209.42M97.92 216.18V211.55M99.79 205.18V200.90M107.25 188.96V185.72M110.97 195.45V190.10M113.77 217.00V212.04M117.50 206.75V197.31M119.36 209.15V206.86M121.23 210.16V206.73M127.75 184.62V180.70M130.55 198.68V194.57M133.35 212.04V209.39M136.14 188.82V188.16M138.94 200.57V190.70M142.67 220.25V214.98M147.88 170.90V166.50M148.81 187.41V185.70M152.54 190.86V188.81M154.41 203.10V199.88M155.34 209.61V209.06M160.94 216.70V215.80M168.40 194.50V193.22M171.20 186.90V182.55M174.00 190.91V187.25M174.93 215.49V214.33M177.73 207.89V198.64M186.12 204.89V204.72M187.05 212.68V210.32M198.24 210.94V209.67M206.64 195.36V195.01M207.57 213.04V213.01M213.17 197.58V193.85M216.90 196.19V182.11M218.76 209.56V208.35M221.56 203.94V203.79M226.22 211.20V210.78M227.15 169.95V163.40M230.89 204.07V201.45M235.55 200.68V197.99M237.41 180.85V165.06M238.35 195.19V173.45M241.14 212.47V207.57M242.08 198.58V189.13M243.01 199.24V198.96M247.67 199.76V194.01M248.61 177.94V177.75M255.13 195.98V193.47" stroke="#d2691e" stroke-width="1.052" fill="none"/>
<path d="M41.06 198.75V197.18M41.99 147.75V146.81M49.45 207.90V205.67M50.38 177.01V154.08M51.31 172.17V145.28M52.25 193.77V180.51M56.91 188.20V179.41M57.84 195.52V193.04M59.70 175.04V174.95M61.57 206.13V194.90M62.50 196.76V195.47M67.16 195.10V194.86M72.75 196.76V192.73M76.48 167.97V162.07M77.42 209.23V208.71M80.21 177.54V168.05M84.87 176.96V167.90M85.81 190.45V190.07M91.40 169.63V167.44M93.26 153.49V152.52M105.38 188.96V185.57M107.25 182.49V177.01M113.77 159.81V158.99M115.64 191.91V190.84M119.36 197.27V196.51M124.03 193.58V191.80M124.96 190.64V187.73M127.75 180.70V166.20M128.69 202.75V193.03M137.08 151.52V144.96M141.74 204.42V204.02M148.81 182.36V180.74M149.75 182.13V181.94M155.34 193.37V184.48M160.01 208.51V205.78M176.79 180.15V176.84M180.52 183.31V153.92M187.05 155.13V149.46M189.85 198.86V185.13M194.51 190.33V185.94M196.38 176.11V172.36M197.31 177.99V171.09M202.91 173.75V173.65M206.64 187.84V186.16M207.57 185.52V178.54M210.37 180.27V174.42M215.03 172.70V170.41M216.90 158.14V158.04M223.42 176.26V175.89M224.36 176.29V170.34M226.22 202.11V199.69M229.95 177.76V167.91M240.21 164.56V164.26M242.08 177.91V177.80M243.01 173.63V150.70M244.87 156.38V156.28M250.47 183.86V181.37" stroke="#6495ed" stroke-width="1.052" fill="none"/>
<path d="M41.06 190.10V185.23M47.58 181.08V180.00M48.52 174.44V163.77M50.38 154.08V142.36M55.04 178.18V176.06M67.16 191.98V191.74M69.03 165.77V165.75M71.82 195.59V195.57M78.35 207.45V204.05M81.14 191.22V189.34M83.94 151.68V146.13M85.81 190.07V189.21M87.67 181.79V181.47M90.47 182.87V169.74M96.06 199.70V198.60M99.79 179.68V178.03M102.58 160.17V159.58M103.52 181.17V149.46M104.45 184.65V182.38M105.38 185.57V160.88M110.04 166.92V165.36M110.97 174.45V171.71M116.57 164.05V163.06M117.50 184.14V182.16M118.43 190.13V174.21M120.30 194.99V189.45M124.96 183.93V174.95M129.62 169.35V148.38M133.35 195.98V179.42M135.21 174.98V174.27M138.94 162.42V159.42M150.68 164.04V160.37M151.61 172.10V164.82M156.28 207.66V188.84M157.21 184.95V176.05M159.07 173.04V161.40M161.87 193.62V192.81M165.60 162.20V162.09M167.47 186.45V171.75M169.33 173.76V173.64M170.26 177.45V166.94M173.06 171.99V158.76M179.59 174.10V154.41M181.46 171.02V170.61M182.39 192.80V184.14M184.25 188.01V187.22M186.12 198.35V197.59M187.98 149.74V144.80M189.85 185.09V184.59M193.58 171.23V170.30M195.45 186.80V174.74M199.18 179.53V162.39M201.97 188.35V186.64M202.91 173.65V161.30M203.84 172.76V165.36M207.57 173.46V168.08M209.43 165.77V159.32M210.37 173.65V172.50M212.23 181.19V180.10M217.83 182.61V180.32M224.36 170.34V147.68M229.02 151.40V146.38M231.82 175.10V161.33M234.62 173.58V151.10M235.55 192.52V151.80M236.48 177.92V165.20M238.35 167.92V166.09M240.21 162.30V159.07M246.74 174.98V167.86M247.67 188.87V180.64M248.61 169.50V162.84M250.47 175.73V163.70M251.40 163.91V157.93M252.34 171.01V166.03M254.20 176.78V173.30" stroke="#dda0dd" stroke-width="1.052" fill="none"/>
<path d="M41.99 143.28V141.33M42.92 176.81V176.46M43.86 170.84V164.55M46.65 169.90V137.30M47.58 180.00V143.81M48.52 159.63V159.55M50.38 142.36V141.14M51.31 144.76V143.91M55.04 176.06V167.83M55.97 143.31V143.01M61.57 188.68V184.50M64.36 177.26V167.79M65.30 163.32V156.09M69.03 155.52V154.33M69.96 175.81V174.65M76.48 154.39V137.49M80.21 159.74V156.87M83.01 177.98V171.21M85.81 167.85V165.08M87.67 180.09V151.59M89.53 154.04V153.26M98.86 176.47V136.55M99.79 177.62V176.80M100.72 198.32V175.00M101.65 176.82V175.93M108.18 164.79V148.44M114.70 154.89V153.66M115.64 177.40V168.98M128.69 157.94V156.56M141.74 201.35V174.06M143.60 168.35V167.13M144.53 187.69V139.21M155.34 184.44V150.60M157.21 163.34V155.95M160.01 191.98V179.63M160.94 190.71V176.54M161.87 192.81V152.21M164.67 150.68V136.86M168.40 140.65V139.71M169.33 164.64V140.06M170.26 161.98V161.86M171.20 166.43V143.14M174.93 198.16V197.45M179.59 154.41V154.31M187.05 148.46V144.06M193.58 164.21V163.69M212.23 173.48V173.33M218.76 171.69V166.29M220.63 170.45V168.72M221.56 167.23V165.24M223.42 175.89V155.20M224.36 146.94V146.77M229.95 159.60V154.69M235.55 151.80V150.60M237.41 152.57V152.08M239.28 178.12V168.92M242.08 171.08V169.30M243.01 150.70V149.64M243.94 165.23V161.38M244.87 154.09V153.39M250.47 163.70V159.30" stroke="#e0204a" stroke-width="1.052" fill="none"/>
<path d="M43.86 204.84V204.35M45.72 205.58V205.43M47.58 203.00V199.98M62.50 203.98V203.87M64.36 208.30V203.18M65.30 205.21V199.92M68.09 203.41V197.75M71.82 212.83V212.43M74.62 171.95V168.36M77.42 216.65V216.41M79.28 179.38V175.50M83.01 192.56V188.80M86.74 208.00V207.38M91.40 182.02V173.47M92.33 206.56V203.50M93.26 190.28V187.82M94.19 180.33V177.38M100.72 208.18V206.62M102.58 185.84V179.42M108.18 210.96V201.19M110.97 190.10V188.64M111.91 166.41V162.07M113.77 210.49V202.89M114.70 167.76V165.27M124.03 201.40V201.31M125.89 202.64V197.81M131.48 215.70V214.52M133.35 209.39V200.41M134.28 202.83V201.55M136.14 188.16V187.47M141.74 211.45V208.30M153.48 200.73V183.71M158.14 196.27V195.13M162.80 195.67V193.35M164.67 208.32V207.29M167.47 205.17V204.82M168.40 191.58V189.14M179.59 200.12V199.75M181.46 190.28V176.27M183.32 206.50V206.47M186.12 201.93V199.66M191.72 203.94V203.20M203.84 210.84V189.08M207.57 193.74V190.65M210.37 182.62V180.75M218.76 204.00V197.50M223.42 204.81V197.01M230.89 201.43V201.36M235.55 197.99V194.38M243.01 198.69V179.73M245.81 177.42V172.36M246.74 196.07V190.34M248.61 177.75V172.30M249.54 170.18V167.24M253.27 202.19V202.06M255.13 193.47V193.33" stroke="#7a4a2a" stroke-width="1.052" fill="none"/>
<path d="M44.79 148.94V140.92M47.58 143.81V140.29M48.52 159.55V149.00M49.45 187.76V137.46M50.38 141.14V137.56M52.25 145.42V138.28M56.91 154.96V154.02M57.84 179.33V178.58M59.70 142.92V137.92M60.64 179.74V159.46M64.36 167.46V154.66M69.03 154.15V151.24M69.96 174.50V168.40M71.82 177.51V140.15M75.55 147.22V142.47M82.08 153.39V146.83M83.94 138.16V135.86M84.87 158.89V136.02M85.81 165.08V152.09M92.33 142.10V141.14M96.06 155.06V151.59M97.92 159.39V138.66M102.58 158.27V143.54M106.31 138.24V137.91M122.16 149.25V149.08M123.09 141.46V141.24M125.89 139.31V138.59M131.48 198.10V159.78M134.28 145.88V144.20M135.21 156.41V155.77M137.08 138.00V136.48M138.01 143.12V139.58M140.81 144.56V143.07M148.81 179.40V156.69M151.61 157.09V152.00M152.54 141.36V141.06M153.48 159.63V154.74M160.94 175.85V166.05M163.74 152.48V143.62M173.06 158.76V141.52M174.00 142.73V138.35M174.93 174.33V159.87M175.86 155.12V151.32M182.39 168.68V158.79M188.92 162.26V142.40M190.78 155.10V154.31M198.24 155.22V144.56M201.04 154.82V152.99M202.91 161.30V141.41M204.77 164.07V158.13M205.70 173.85V172.46M206.64 160.75V160.14M207.57 168.08V145.94M215.96 156.46V154.95M216.90 155.17V154.88M218.76 166.29V157.16M222.49 155.91V155.46M230.89 153.28V153.23M232.75 174.34V173.06M234.62 148.41V147.85M240.21 155.42V150.87M244.87 145.06V144.25M245.81 146.22V143.39M248.61 162.84V156.60M250.47 158.76V147.36M251.40 151.18V150.63M252.34 157.86V152.45" stroke="#800000" stroke-width="1.052" fill="none"/>
<path d="M45.72 160.46V159.64M52.25 155.16V145.42M53.18 159.01V142.75M58.77 165.55V158.31M59.70 147.69V142.92M63.43 141.28V139.42M69.03 154.33V154.15M79.28 152.10V142.17M81.14 183.53V169.37M84.87 164.36V158.89M86.74 160.02V145.15M89.53 149.65V147.26M93.26 147.52V142.97M94.19 144.91V143.54M100.72 152.41V148.93M110.04 143.63V142.43M114.70 139.79V138.20M121.23 177.95V164.74M123.09 154.84V141.46M125.89 188.64V188.08M129.62 148.38V137.83M133.35 179.42V147.68M136.14 157.16V140.92M137.08 141.71V138.00M138.01 152.39V143.12M138.94 139.39V138.97M139.87 166.66V159.91M140.81 148.85V144.56M151.61 160.89V157.09M153.48 159.73V159.63M154.41 172.45V159.66M159.07 161.40V155.46M160.01 157.27V141.48M160.94 176.54V175.85M163.74 152.86V152.48M166.53 176.46V174.13M167.47 161.22V150.78M172.13 161.42V152.15M174.00 158.31V144.81M176.79 173.54V166.68M177.73 154.83V142.47M179.59 154.31V153.87M187.05 144.06V139.93M188.92 201.82V186.33M191.72 143.00V139.95M192.65 183.27V146.09M203.84 143.57V143.50M205.70 175.41V173.85M208.50 161.08V159.65M209.43 158.50V155.67M214.10 166.72V161.42M216.90 156.43V155.17M226.22 185.60V178.13M228.09 150.99V147.86M231.82 161.33V161.32M232.75 175.70V174.34M233.68 150.38V144.49M243.01 149.01V147.83M246.74 162.06V155.94M253.27 175.20V170.86M255.13 173.10V171.74" stroke="#b22222" stroke-width="1.052" fill="none"/>
<path d="M53.18 202.83V201.84M54.11 218.37V193.30M57.84 197.89V196.70M58.77 202.22V200.83M75.55 202.81V196.25M76.48 196.52V180.86M77.42 221.78V216.65M78.35 216.09V215.98M80.21 207.62V201.33M84.87 180.12V176.96M85.81 205.07V203.49M88.60 184.14V183.04M90.47 213.90V213.73M96.99 215.74V212.88M101.65 200.24V195.63M105.38 191.67V190.34M110.97 195.68V195.45M118.43 214.68V213.48M120.30 215.42V212.89M121.23 211.23V210.16M122.16 196.90V192.78M123.09 214.95V206.55M124.03 205.39V201.40M129.62 206.94V178.95M132.42 206.12V198.48M134.28 205.09V202.96M136.14 193.71V188.82M143.60 204.44V192.77M144.53 216.16V215.97M151.61 203.21V202.93M152.54 198.02V190.86M156.28 214.70V214.67M158.14 205.44V196.91M160.94 217.02V216.70M163.74 208.64V208.20M166.53 204.16V204.12M172.13 190.43V189.05M173.06 195.85V192.88M174.00 201.71V190.91M174.93 216.00V215.49M175.86 205.30V197.34M176.79 214.10V183.35M181.46 193.45V190.43M182.39 203.49V203.17M183.32 208.44V206.64M184.25 209.04V202.36M188.92 207.21V206.35M189.85 219.00V217.56M191.72 207.25V203.94M193.58 181.73V181.49M194.51 208.22V202.41M196.38 180.59V176.11M201.04 198.85V180.21M201.97 197.72V196.37M209.43 198.63V195.77M211.30 216.78V211.93M222.49 199.36V196.16M223.42 210.72V204.81M224.36 179.89V179.81M227.15 185.05V169.95M231.82 197.66V196.89M234.62 196.70V194.58M242.08 208.01V198.58M248.61 186.36V177.94M251.40 208.90V208.14M252.34 193.01V189.73" stroke="#9acd32" stroke-width="1.052" fill="none"/>
<rect x="254.40" y="197.00" width="1.20" height="27.00" fill="#c8900a"/>
<rect x="35.00" y="224.40" width="110.10" height="4.80" fill="#e000d8"/>
<rect x="145.50" y="224.40" width="110.10" height="4.80" fill="#e8700c"/>
<text x="33.90" y="225.60" font-size="4.5" fill="#222" text-anchor="end" font-weight="normal" transform="rotate(0.04 33.90 225.60)" textLength="2.8" lengthAdjust="spacingAndGlyphs">0</text>
<text x="33.90" y="207.60" font-size="4.5" fill="#222" text-anchor="end" font-weight="normal" transform="rotate(0.04 33.90 207.60)" textLength="5.6" lengthAdjust="spacingAndGlyphs">20</text>
<text x="33.90" y="189.60" font-size="4.5" fill="#222" text-anchor="end" font-weight="normal" transform="rotate(0.04 33.90 189.60)" textLength="5.6" lengthAdjust="spacingAndGlyphs">40</text>
<text x="33.90" y="171.60" font-size="4.5" fill="#222" text-anchor="end" font-weight="normal" transform="rotate(0.04 33.90 171.60)" textLength="5.6" lengthAdjust="spacingAndGlyphs">60</text>
<text x="33.90" y="153.60" font-size="4.5" fill="#222" text-anchor="end" font-weight="normal" transform="rotate(0.04 33.90 153.60)" textLength="5.6" lengthAdjust="spacingAndGlyphs">80</text>
<text x="33.90" y="135.60" font-size="4.5" fill="#222" text-anchor="end" font-weight="normal" transform="rotate(0.04 33.90 135.60)" textLength="8.4" lengthAdjust="spacingAndGlyphs">100</text>
<text x="23.30" y="177.20" font-size="5.9" fill="#000" text-anchor="middle" font-weight="normal" transform="rotate(-90 23.30 177.20)" textLength="74" lengthAdjust="spacingAndGlyphs" stroke="#000" stroke-width="0.15">Relative Abundance(%)</text>
<text x="86.00" y="236.90" font-size="7.3" fill="#000" text-anchor="middle" font-weight="bold" transform="rotate(0.04 86.00 236.90)">AC</text>
<text x="198.00" y="236.90" font-size="7.3" fill="#000" text-anchor="middle" font-weight="bold" transform="rotate(0.04 198.00 236.90)">SCC</text>
<text x="257.90" y="149.00" font-size="5.3" fill="#111" text-anchor="start" font-weight="normal" transform="rotate(0.04 257.90 149.00)">Genus</text>
<rect x="282.30" y="145.50" width="4.70" height="4.70" fill="#0b3fa0"/>
<text x="292.80" y="149.45" font-size="4.6" fill="#000" text-anchor="start" font-weight="normal" transform="rotate(0.04 292.80 149.45)" stroke="#000" stroke-width="0.12">Micrococcus</text>
<rect x="282.30" y="153.33" width="4.70" height="4.70" fill="#6a0d83"/>
<text x="292.80" y="157.28" font-size="4.6" fill="#000" text-anchor="start" font-weight="normal" transform="rotate(0.04 292.80 157.28)" stroke="#000" stroke-width="0.12">Atopostipes</text>
<rect x="282.30" y="161.16" width="4.70" height="4.70" fill="#a9a9a9"/>
<text x="292.80" y="165.11" font-size="4.6" fill="#000" text-anchor="start" font-weight="normal" transform="rotate(0.04 292.80 165.11)" stroke="#000" stroke-width="0.12">uncultured</text>
<rect x="282.30" y="168.99" width="4.70" height="4.70" fill="#fa8072"/>
<text x="292.80" y="172.94" font-size="4.6" fill="#000" text-anchor="start" font-weight="normal" transform="rotate(0.04 292.80 172.94)" stroke="#000" stroke-width="0.12">Phenylobacterium</text>
<rect x="282.30" y="176.82" width="4.70" height="4.70" fill="#ffa500"/>
<text x="292.80" y="180.77" font-size="4.6" fill="#000" text-anchor="start" font-weight="normal" transform="rotate(0.04 292.80 180.77)" stroke="#000" stroke-width="0.12">Corynebacterium</text>
<rect x="282.30" y="184.65" width="4.70" height="4.70" fill="#ff7f50"/>
<text x="292.80" y="188.60" font-size="4.6" fill="#000" text-anchor="start" font-weight="normal" transform="rotate(0.04 292.80 188.60)" stroke="#000" stroke-width="0.12">Silanimonas</text>
<rect x="282.30" y="192.48" width="4.70" height="4.70" fill="#228b22"/>
<text x="292.80" y="196.43" font-size="4.6" fill="#000" text-anchor="start" font-weight="normal" transform="rotate(0.04 292.80 196.43)" stroke="#000" stroke-width="0.12">[Ruminococcus]_torques_group</text>
<rect x="282.30" y="200.31" width="4.70" height="4.70" fill="#ffd700"/>
<text x="292.80" y="204.26" font-size="4.6" fill="#000" text-anchor="start" font-weight="normal" transform="rotate(0.04 292.80 204.26)" stroke="#000" stroke-width="0.12">UCG-002</text>
<rect x="282.30" y="208.14" width="4.70" height="4.70" fill="#00ced1"/>
<text x="292.80" y="212.09" font-size="4.6" fill="#000" text-anchor="start" font-weight="normal" transform="rotate(0.04 292.80 212.09)" stroke="#000" stroke-width="0.12">Lactobacillus</text>
<rect x="282.30" y="215.97" width="4.70" height="4.70" fill="#9400d3"/>
<text x="292.80" y="219.92" font-size="4.6" fill="#000" text-anchor="start" font-weight="normal" transform="rotate(0.04 292.80 219.92)" stroke="#000" stroke-width="0.12">Stenotrophomonas</text>
<rect x="282.30" y="223.80" width="4.70" height="4.70" fill="#32cd32"/>
<text x="292.80" y="227.75" font-size="4.6" fill="#000" text-anchor="start" font-weight="normal" transform="rotate(0.04 292.80 227.75)" stroke="#000" stroke-width="0.12">Sphingopyxis</text>
<rect x="380.00" y="145.50" width="4.70" height="4.70" fill="#b5c410"/>
<text x="390.10" y="149.45" font-size="4.6" fill="#000" text-anchor="start" font-weight="normal" transform="rotate(0.04 390.10 149.45)" stroke="#000" stroke-width="0.12">Streptococcus</text>
<rect x="380.00" y="153.33" width="4.70" height="4.70" fill="#c8780a"/>
<text x="390.10" y="157.28" font-size="4.6" fill="#000" text-anchor="start" font-weight="normal" transform="rotate(0.04 390.10 157.28)" stroke="#000" stroke-width="0.12">Staphylococcus</text>
<rect x="380.00" y="161.16" width="4.70" height="4.70" fill="#ffd700"/>
<text x="390.10" y="165.11" font-size="4.6" fill="#000" text-anchor="start" font-weight="normal" transform="rotate(0.04 390.10 165.11)" stroke="#000" stroke-width="0.12">Haemophilus</text>
<rect x="380.00" y="168.99" width="4.70" height="4.70" fill="#4682b4"/>
<text x="390.10" y="172.94" font-size="4.6" fill="#000" text-anchor="start" font-weight="normal" transform="rotate(0.04 390.10 172.94)" stroke="#000" stroke-width="0.12">Sphingomonas</text>
<rect x="380.00" y="176.82" width="4.70" height="4.70" fill="#dc143c"/>
<text x="390.10" y="180.77" font-size="4.6" fill="#000" text-anchor="start" font-weight="normal" transform="rotate(0.04 390.10 180.77)" stroke="#000" stroke-width="0.12">Roseateles</text>
<rect x="380.00" y="184.65" width="4.70" height="4.70" fill="#6495ed"/>
<text x="390.10" y="188.60" font-size="4.6" fill="#000" text-anchor="start" font-weight="normal" transform="rotate(0.04 390.10 188.60)" stroke="#000" stroke-width="0.12">Chryseobacterium</text>
<rect x="380.00" y="192.48" width="4.70" height="4.70" fill="#8b008b"/>
<text x="390.10" y="196.43" font-size="4.6" fill="#000" text-anchor="start" font-weight="normal" transform="rotate(0.04 390.10 196.43)" stroke="#000" stroke-width="0.12">Alloprevotella</text>
<rect x="380.00" y="200.31" width="4.70" height="4.70" fill="#ff6347"/>
<text x="390.10" y="204.26" font-size="4.6" fill="#000" text-anchor="start" font-weight="normal" transform="rotate(0.04 390.10 204.26)" stroke="#000" stroke-width="0.12">Anaerococcus</text>
<rect x="380.00" y="208.14" width="4.70" height="4.70" fill="#ff8c00"/>
<text x="390.10" y="212.09" font-size="4.6" fill="#000" text-anchor="start" font-weight="normal" transform="rotate(0.04 390.10 212.09)" stroke="#000" stroke-width="0.12">Pseudoxanthomonas</text>
<rect x="380.00" y="215.97" width="4.70" height="4.70" fill="#ff00ff"/>
<text x="390.10" y="219.92" font-size="4.6" fill="#000" text-anchor="start" font-weight="normal" transform="rotate(0.04 390.10 219.92)" stroke="#000" stroke-width="0.12">Paracoccus</text>
<rect x="380.00" y="223.80" width="4.70" height="4.70" fill="#ff7f50"/>
<text x="390.10" y="227.75" font-size="4.6" fill="#000" text-anchor="start" font-weight="normal" transform="rotate(0.04 390.10 227.75)" stroke="#000" stroke-width="0.12">Subdoligranulum</text>
<rect x="477.10" y="145.50" width="4.70" height="4.70" fill="#6b8e23"/>
<text x="487.70" y="149.45" font-size="4.6" fill="#000" text-anchor="start" font-weight="normal" transform="rotate(0.04 487.70 149.45)" stroke="#000" stroke-width="0.12">Acinetobacter</text>
<rect x="477.10" y="153.33" width="4.70" height="4.70" fill="#1572c4"/>
<text x="487.70" y="157.28" font-size="4.6" fill="#000" text-anchor="start" font-weight="normal" transform="rotate(0.04 487.70 157.28)" stroke="#000" stroke-width="0.12">Comamonas</text>
<rect x="477.10" y="161.16" width="4.70" height="4.70" fill="#7a4a2a"/>
<text x="487.70" y="165.11" font-size="4.6" fill="#000" text-anchor="start" font-weight="normal" transform="rotate(0.04 487.70 165.11)" stroke="#000" stroke-width="0.12">Saccharimonadales</text>
<rect x="477.10" y="168.99" width="4.70" height="4.70" fill="#8b008b"/>
<text x="487.70" y="172.94" font-size="4.6" fill="#000" text-anchor="start" font-weight="normal" transform="rotate(0.04 487.70 172.94)" stroke="#000" stroke-width="0.12">Sphingobium</text>
<rect x="477.10" y="176.82" width="4.70" height="4.70" fill="#6a5acd"/>
<text x="487.70" y="180.77" font-size="4.6" fill="#000" text-anchor="start" font-weight="normal" transform="rotate(0.04 487.70 180.77)" stroke="#000" stroke-width="0.12">Pseudomonas</text>
<rect x="477.10" y="184.65" width="4.70" height="4.70" fill="#8a2be2"/>
<text x="487.70" y="188.60" font-size="4.6" fill="#000" text-anchor="start" font-weight="normal" transform="rotate(0.04 487.70 188.60)" stroke="#000" stroke-width="0.12">Bacteroides</text>
<rect x="477.10" y="192.48" width="4.70" height="4.70" fill="#ff4500"/>
<text x="487.70" y="196.43" font-size="4.6" fill="#000" text-anchor="start" font-weight="normal" transform="rotate(0.04 487.70 196.43)" stroke="#000" stroke-width="0.12">Candidatus_Kaiserbacteria</text>
<rect x="477.10" y="200.31" width="4.70" height="4.70" fill="#556b2f"/>
<text x="487.70" y="204.26" font-size="4.6" fill="#000" text-anchor="start" font-weight="normal" transform="rotate(0.04 487.70 204.26)" stroke="#000" stroke-width="0.12">Faecalibacterium</text>
<rect x="477.10" y="208.14" width="4.70" height="4.70" fill="#8b0000"/>
<text x="487.70" y="212.09" font-size="4.6" fill="#000" text-anchor="start" font-weight="normal" transform="rotate(0.04 487.70 212.09)" stroke="#000" stroke-width="0.12">Subgroup_2</text>
<rect x="477.10" y="215.97" width="4.70" height="4.70" fill="#800000"/>
<text x="487.70" y="219.92" font-size="4.6" fill="#000" text-anchor="start" font-weight="normal" transform="rotate(0.04 487.70 219.92)" stroke="#000" stroke-width="0.12">Tropheryma</text>
<rect x="477.10" y="223.80" width="4.70" height="4.70" fill="#da70d6"/>
<text x="487.70" y="227.75" font-size="4.6" fill="#000" text-anchor="start" font-weight="normal" transform="rotate(0.04 487.70 227.75)" stroke="#000" stroke-width="0.12">Desulfovibrio</text>
<rect x="574.80" y="145.50" width="4.70" height="4.70" fill="#0a8268"/>
<text x="585.00" y="149.45" font-size="4.6" fill="#000" text-anchor="start" font-weight="normal" transform="rotate(0.04 585.00 149.45)" stroke="#000" stroke-width="0.12">Hydrogenophilus</text>
<rect x="574.80" y="153.33" width="4.70" height="4.70" fill="#b08078"/>
<text x="585.00" y="157.28" font-size="4.6" fill="#000" text-anchor="start" font-weight="normal" transform="rotate(0.04 585.00 157.28)" stroke="#000" stroke-width="0.12">Allorhizobium-Neorhizobium-Pararhizobium-Rhizobium</text>
<rect x="574.80" y="161.16" width="4.70" height="4.70" fill="#00fa9a"/>
<text x="585.00" y="165.11" font-size="4.6" fill="#000" text-anchor="start" font-weight="normal" transform="rotate(0.04 585.00 165.11)" stroke="#000" stroke-width="0.12">Fusobacterium</text>
<rect x="574.80" y="168.99" width="4.70" height="4.70" fill="#20b2aa"/>
<text x="585.00" y="172.94" font-size="4.6" fill="#000" text-anchor="start" font-weight="normal" transform="rotate(0.04 585.00 172.94)" stroke="#000" stroke-width="0.12">Proteus</text>
<rect x="574.80" y="176.82" width="4.70" height="4.70" fill="#d2691e"/>
<text x="585.00" y="180.77" font-size="4.6" fill="#000" text-anchor="start" font-weight="normal" transform="rotate(0.04 585.00 180.77)" stroke="#000" stroke-width="0.12">Bosea</text>
<rect x="574.80" y="184.65" width="4.70" height="4.70" fill="#b22222"/>
<text x="585.00" y="188.60" font-size="4.6" fill="#000" text-anchor="start" font-weight="normal" transform="rotate(0.04 585.00 188.60)" stroke="#000" stroke-width="0.12">Dechloromonas</text>
<rect x="574.80" y="192.48" width="4.70" height="4.70" fill="#2e8b57"/>
<text x="585.00" y="196.43" font-size="4.6" fill="#000" text-anchor="start" font-weight="normal" transform="rotate(0.04 585.00 196.43)" stroke="#000" stroke-width="0.12">Pedobacter</text>
<rect x="574.80" y="200.31" width="4.70" height="4.70" fill="#ff1493"/>
<text x="585.00" y="204.26" font-size="4.6" fill="#000" text-anchor="start" font-weight="normal" transform="rotate(0.04 585.00 204.26)" stroke="#000" stroke-width="0.12">Prevotella</text>
<rect x="574.80" y="208.14" width="4.70" height="4.70" fill="#808000"/>
<text x="585.00" y="212.09" font-size="4.6" fill="#000" text-anchor="start" font-weight="normal" transform="rotate(0.04 585.00 212.09)" stroke="#000" stroke-width="0.12">Methyloversatilis</text>
<rect x="574.80" y="215.97" width="4.70" height="4.70" fill="#9acd32"/>
<text x="585.00" y="219.92" font-size="4.6" fill="#000" text-anchor="start" font-weight="normal" transform="rotate(0.04 585.00 219.92)" stroke="#000" stroke-width="0.12">Escherichia-Shigella</text>
<rect x="574.80" y="224.90" width="4.70" height="4.70" fill="#ff0000"/>
<text x="585.00" y="228.85" font-size="4.6" fill="#000" text-anchor="start" font-weight="normal" transform="rotate(0.04 585.00 228.85)" stroke="#000" stroke-width="0.12">Others</text>
</g>
<g id="panelC">
<text x="-0.30" y="271.60" font-size="10.5" fill="#000" text-anchor="start" font-weight="normal" transform="rotate(0.04 -0.30 271.60)">C</text>
<rect x="44.70" y="265.00" width="116.30" height="198.50" fill="#e5ecf6"/>
<line x1="44.70" y1="462.40" x2="161.00" y2="462.40" stroke="#ffffff" stroke-width="0.7"/>
<text x="44.00" y="464.80" font-size="6.0" fill="#222" text-anchor="end" font-weight="normal" transform="rotate(0.04 44.00 464.80)" textLength="2.7" lengthAdjust="spacingAndGlyphs">0</text>
<line x1="44.70" y1="424.80" x2="161.00" y2="424.80" stroke="#ffffff" stroke-width="0.7"/>
<text x="44.00" y="427.20" font-size="6.0" fill="#222" text-anchor="end" font-weight="normal" transform="rotate(0.04 44.00 427.20)" textLength="5.3" lengthAdjust="spacingAndGlyphs">10</text>
<line x1="44.70" y1="387.20" x2="161.00" y2="387.20" stroke="#ffffff" stroke-width="0.7"/>
<text x="44.00" y="389.60" font-size="6.0" fill="#222" text-anchor="end" font-weight="normal" transform="rotate(0.04 44.00 389.60)" textLength="5.3" lengthAdjust="spacingAndGlyphs">20</text>
<line x1="44.70" y1="349.60" x2="161.00" y2="349.60" stroke="#ffffff" stroke-width="0.7"/>
<text x="44.00" y="352.00" font-size="6.0" fill="#222" text-anchor="end" font-weight="normal" transform="rotate(0.04 44.00 352.00)" textLength="5.3" lengthAdjust="spacingAndGlyphs">30</text>
<line x1="44.70" y1="312.00" x2="161.00" y2="312.00" stroke="#ffffff" stroke-width="0.7"/>
<text x="44.00" y="314.40" font-size="6.0" fill="#222" text-anchor="end" font-weight="normal" transform="rotate(0.04 44.00 314.40)" textLength="5.3" lengthAdjust="spacingAndGlyphs">40</text>
<line x1="44.70" y1="274.40" x2="161.00" y2="274.40" stroke="#ffffff" stroke-width="0.7"/>
<text x="44.00" y="276.80" font-size="6.0" fill="#222" text-anchor="end" font-weight="normal" transform="rotate(0.04 44.00 276.80)" textLength="5.3" lengthAdjust="spacingAndGlyphs">50</text>
<rect x="50.60" y="272.90" width="46.50" height="1.10" fill="#2e9aa0"/>
<rect x="50.60" y="274.00" width="46.50" height="28.90" fill="#ffd700"/>
<rect x="50.60" y="302.90" width="46.50" height="1.30" fill="#d9a514"/>
<rect x="50.60" y="304.20" width="46.50" height="0.60" fill="#e08090"/>
<rect x="50.60" y="304.80" width="46.50" height="1.30" fill="#8b1a6b"/>
<rect x="50.60" y="306.10" width="46.50" height="2.90" fill="#00ffff"/>
<rect x="50.60" y="309.00" width="46.50" height="110.70" fill="#ffff00"/>
<rect x="50.60" y="419.70" width="46.50" height="16.80" fill="#0000ff"/>
<rect x="50.60" y="436.50" width="46.50" height="16.20" fill="#00ff00"/>
<rect x="50.60" y="452.70" width="46.50" height="9.70" fill="#ff0000"/>
<rect x="108.40" y="275.50" width="46.50" height="1.40" fill="#008080"/>
<rect x="108.40" y="276.90" width="46.50" height="8.10" fill="#ffd700"/>
<rect x="108.40" y="285.00" width="46.50" height="0.60" fill="#800080"/>
<rect x="108.40" y="285.60" width="46.50" height="1.20" fill="#ff00ff"/>
<rect x="108.40" y="286.80" width="46.50" height="1.30" fill="#00ffff"/>
<rect x="108.40" y="288.10" width="46.50" height="136.50" fill="#ffff00"/>
<rect x="108.40" y="424.60" width="46.50" height="19.60" fill="#0000ff"/>
<rect x="108.40" y="444.20" width="46.50" height="15.80" fill="#00ff00"/>
<rect x="108.40" y="460.00" width="46.50" height="2.40" fill="#ff0000"/>
<text x="71.70" y="469.60" font-size="7" fill="#000" text-anchor="middle" font-weight="bold" transform="rotate(0.04 71.70 469.60)">AC</text>
<text x="132.90" y="469.60" font-size="7" fill="#000" text-anchor="middle" font-weight="bold" transform="rotate(0.04 132.90 469.60)">SCC</text>
<text x="24.90" y="364.60" font-size="7.2" fill="#000" text-anchor="middle" font-weight="normal" transform="rotate(-90 24.90 364.60)" stroke="#000" stroke-width="0.2" textLength="120" lengthAdjust="spacingAndGlyphs">Percentage of community abundance</text>
<text x="163.40" y="287.20" font-size="6.1" fill="#222" text-anchor="start" font-weight="normal" transform="rotate(0.04 163.40 287.20)">Phylum</text>
<rect x="166.80" y="292.30" width="6.00" height="5.80" fill="#008080"/>
<text x="180.50" y="297.15" font-size="5.6" fill="#000" text-anchor="start" font-weight="normal" transform="rotate(0.04 180.50 297.15)" stroke="#000" stroke-width="0.1">Cyanobacteria</text>
<rect x="166.80" y="301.09" width="6.00" height="5.80" fill="#ffd700"/>
<text x="180.50" y="305.94" font-size="5.6" fill="#000" text-anchor="start" font-weight="normal" transform="rotate(0.04 180.50 305.94)" stroke="#000" stroke-width="0.1">Deinococcota</text>
<rect x="166.80" y="309.87" width="6.00" height="5.80" fill="#000080"/>
<text x="180.50" y="314.72" font-size="5.6" fill="#000" text-anchor="start" font-weight="normal" transform="rotate(0.04 180.50 314.72)" stroke="#000" stroke-width="0.1">Chloroflexi</text>
<rect x="166.80" y="318.66" width="6.00" height="5.80" fill="#800000"/>
<text x="180.50" y="323.50" font-size="5.6" fill="#000" text-anchor="start" font-weight="normal" transform="rotate(0.04 180.50 323.50)" stroke="#000" stroke-width="0.1">Verrucomicrobiota</text>
<rect x="166.80" y="327.44" width="6.00" height="5.80" fill="#ffc0cb"/>
<text x="180.50" y="332.29" font-size="5.6" fill="#000" text-anchor="start" font-weight="normal" transform="rotate(0.04 180.50 332.29)" stroke="#000" stroke-width="0.1">Campilobacterota</text>
<rect x="166.80" y="336.23" width="6.00" height="5.80" fill="#800080"/>
<text x="180.50" y="341.07" font-size="5.6" fill="#000" text-anchor="start" font-weight="normal" transform="rotate(0.04 180.50 341.07)" stroke="#000" stroke-width="0.1">Bdellovibrionota</text>
<rect x="166.80" y="345.01" width="6.00" height="5.80" fill="#008000"/>
<text x="180.50" y="349.86" font-size="5.6" fill="#000" text-anchor="start" font-weight="normal" transform="rotate(0.04 180.50 349.86)" stroke="#000" stroke-width="0.1">Desulfobacterota</text>
<rect x="166.80" y="353.80" width="6.00" height="5.80" fill="#ffa500"/>
<text x="180.50" y="358.64" font-size="5.6" fill="#000" text-anchor="start" font-weight="normal" transform="rotate(0.04 180.50 358.64)" stroke="#000" stroke-width="0.1">Acidobacteriota</text>
<rect x="166.80" y="362.58" width="6.00" height="5.80" fill="#ff00ff"/>
<text x="180.50" y="367.43" font-size="5.6" fill="#000" text-anchor="start" font-weight="normal" transform="rotate(0.04 180.50 367.43)" stroke="#000" stroke-width="0.1">Fusobacteriota</text>
<rect x="166.80" y="371.37" width="6.00" height="5.80" fill="#00ffff"/>
<text x="180.50" y="376.21" font-size="5.6" fill="#000" text-anchor="start" font-weight="normal" transform="rotate(0.04 180.50 376.21)" stroke="#000" stroke-width="0.1">Patescibacteria</text>
<rect x="166.80" y="380.15" width="6.00" height="5.80" fill="#ffff00"/>
<text x="180.50" y="385.00" font-size="5.6" fill="#000" text-anchor="start" font-weight="normal" transform="rotate(0.04 180.50 385.00)" stroke="#000" stroke-width="0.1">Proteobacteria</text>
<rect x="166.80" y="388.94" width="6.00" height="5.80" fill="#0000ff"/>
<text x="180.50" y="393.78" font-size="5.6" fill="#000" text-anchor="start" font-weight="normal" transform="rotate(0.04 180.50 393.78)" stroke="#000" stroke-width="0.1">Firmicutes</text>
<rect x="166.80" y="397.72" width="6.00" height="5.80" fill="#00ff00"/>
<text x="180.50" y="402.57" font-size="5.6" fill="#000" text-anchor="start" font-weight="normal" transform="rotate(0.04 180.50 402.57)" stroke="#000" stroke-width="0.1">Bacteroidota</text>
<rect x="166.80" y="406.50" width="6.00" height="5.80" fill="#ff0000"/>
<text x="180.50" y="411.35" font-size="5.6" fill="#000" text-anchor="start" font-weight="normal" transform="rotate(0.04 180.50 411.35)" stroke="#000" stroke-width="0.1">Actinobacteriota</text>
</g>
<g id="panelD">
<text x="301.70" y="272.70" font-size="10.6" fill="#000" text-anchor="start" font-weight="normal" transform="rotate(0.04 301.70 272.70)">D</text>
<rect x="329.00" y="264.00" width="122.20" height="199.40" fill="#e5ecf6"/>
<line x1="329.00" y1="461.90" x2="451.20" y2="461.90" stroke="#ffffff" stroke-width="0.7"/>
<text x="328.20" y="464.05" font-size="6.0" fill="#111" text-anchor="end" font-weight="normal" transform="rotate(0.04 328.20 464.05)" stroke="#111" stroke-width="0.12" textLength="3.1" lengthAdjust="spacingAndGlyphs">0</text>
<line x1="329.00" y1="424.20" x2="451.20" y2="424.20" stroke="#ffffff" stroke-width="0.7"/>
<text x="328.20" y="426.35" font-size="6.0" fill="#111" text-anchor="end" font-weight="normal" transform="rotate(0.04 328.20 426.35)" stroke="#111" stroke-width="0.12" textLength="6.2" lengthAdjust="spacingAndGlyphs">10</text>
<line x1="329.00" y1="386.50" x2="451.20" y2="386.50" stroke="#ffffff" stroke-width="0.7"/>
<text x="328.20" y="388.65" font-size="6.0" fill="#111" text-anchor="end" font-weight="normal" transform="rotate(0.04 328.20 388.65)" stroke="#111" stroke-width="0.12" textLength="6.2" lengthAdjust="spacingAndGlyphs">20</text>
<line x1="329.00" y1="348.80" x2="451.20" y2="348.80" stroke="#ffffff" stroke-width="0.7"/>
<text x="328.20" y="350.95" font-size="6.0" fill="#111" text-anchor="end" font-weight="normal" transform="rotate(0.04 328.20 350.95)" stroke="#111" stroke-width="0.12" textLength="6.2" lengthAdjust="spacingAndGlyphs">30</text>
<line x1="329.00" y1="311.10" x2="451.20" y2="311.10" stroke="#ffffff" stroke-width="0.7"/>
<text x="328.20" y="313.25" font-size="6.0" fill="#111" text-anchor="end" font-weight="normal" transform="rotate(0.04 328.20 313.25)" stroke="#111" stroke-width="0.12" textLength="6.2" lengthAdjust="spacingAndGlyphs">40</text>
<line x1="329.00" y1="273.40" x2="451.20" y2="273.40" stroke="#ffffff" stroke-width="0.7"/>
<text x="328.20" y="275.55" font-size="6.0" fill="#111" text-anchor="end" font-weight="normal" transform="rotate(0.04 328.20 275.55)" stroke="#111" stroke-width="0.12" textLength="6.2" lengthAdjust="spacingAndGlyphs">50</text>
<rect x="335.00" y="271.90" width="49.00" height="6.50" fill="#800080"/>
<rect x="335.00" y="278.40" width="49.00" height="3.40" fill="#ff00ff"/>
<rect x="335.00" y="281.80" width="49.00" height="6.10" fill="#008080"/>
<rect x="335.00" y="287.90" width="49.00" height="4.90" fill="#008000"/>
<rect x="335.00" y="292.80" width="49.00" height="29.50" fill="#ff0000"/>
<rect x="335.00" y="322.30" width="49.00" height="9.40" fill="#800000"/>
<rect x="335.00" y="331.70" width="49.00" height="3.50" fill="#000080"/>
<rect x="335.00" y="335.20" width="49.00" height="3.60" fill="#0000ff"/>
<rect x="335.00" y="338.80" width="49.00" height="0.30" fill="#ffc0cb"/>
<rect x="335.00" y="339.10" width="49.00" height="1.90" fill="#ffd700"/>
<rect x="335.00" y="341.00" width="49.00" height="16.20" fill="#ffa500"/>
<rect x="335.00" y="357.20" width="49.00" height="2.00" fill="#00ffff"/>
<rect x="335.00" y="359.20" width="49.00" height="3.70" fill="#ffff00"/>
<rect x="335.00" y="362.90" width="49.00" height="26.10" fill="#ff6347"/>
<rect x="335.00" y="389.00" width="49.00" height="4.30" fill="#00ff00"/>
<rect x="335.00" y="393.30" width="49.00" height="68.60" fill="#00bfff"/>
<rect x="396.10" y="274.40" width="48.80" height="3.60" fill="#800080"/>
<rect x="396.10" y="278.00" width="48.80" height="2.90" fill="#ff00ff"/>
<rect x="396.10" y="280.90" width="48.80" height="5.20" fill="#008080"/>
<rect x="396.10" y="286.10" width="48.80" height="5.40" fill="#008000"/>
<rect x="396.10" y="291.50" width="48.80" height="7.60" fill="#ff0000"/>
<rect x="396.10" y="299.10" width="48.80" height="9.00" fill="#800000"/>
<rect x="396.10" y="308.10" width="48.80" height="3.90" fill="#000080"/>
<rect x="396.10" y="312.00" width="48.80" height="2.00" fill="#0000ff"/>
<rect x="396.10" y="314.00" width="48.80" height="4.00" fill="#ffc0cb"/>
<rect x="396.10" y="318.00" width="48.80" height="2.90" fill="#ffd700"/>
<rect x="396.10" y="320.90" width="48.80" height="37.90" fill="#ffa500"/>
<rect x="396.10" y="358.80" width="48.80" height="4.10" fill="#00ffff"/>
<rect x="396.10" y="362.90" width="48.80" height="2.00" fill="#ffff00"/>
<rect x="396.10" y="364.90" width="48.80" height="28.40" fill="#ff6347"/>
<rect x="396.10" y="393.30" width="48.80" height="10.10" fill="#00ff00"/>
<rect x="396.10" y="403.40" width="48.80" height="58.50" fill="#00bfff"/>
<text x="358.30" y="470.00" font-size="7" fill="#000" text-anchor="middle" font-weight="bold" transform="rotate(0.04 358.30 470.00)">AC</text>
<text x="421.80" y="470.00" font-size="7" fill="#000" text-anchor="middle" font-weight="bold" transform="rotate(0.04 421.80 470.00)">SCC</text>
<text x="316.50" y="354.70" font-size="6.6" fill="#000" text-anchor="middle" font-weight="bold" transform="rotate(-90 316.50 354.70)" textLength="114.7" lengthAdjust="spacingAndGlyphs">Percentage of community abundance</text>
<text x="454.60" y="283.80" font-size="6.6" fill="#222" text-anchor="start" font-weight="normal" transform="rotate(0.04 454.60 283.80)">Genus</text>
<rect x="460.20" y="288.00" width="5.50" height="5.20" fill="#800080"/>
<text x="474.00" y="292.55" font-size="5.7" fill="#000" text-anchor="start" font-weight="normal" transform="rotate(0.04 474.00 292.55)" stroke="#000" stroke-width="0.1">Diaphorobacter</text>
<rect x="460.20" y="296.69" width="5.50" height="5.20" fill="#ff00ff"/>
<text x="474.00" y="301.24" font-size="5.7" fill="#000" text-anchor="start" font-weight="normal" transform="rotate(0.04 474.00 301.24)" stroke="#000" stroke-width="0.1">Ralstonia</text>
<rect x="460.20" y="305.37" width="5.50" height="5.20" fill="#008080"/>
<text x="474.00" y="309.92" font-size="5.7" fill="#000" text-anchor="start" font-weight="normal" transform="rotate(0.04 474.00 309.92)" stroke="#000" stroke-width="0.1">Aquabacterium</text>
<rect x="460.20" y="314.06" width="5.50" height="5.20" fill="#008000"/>
<text x="474.00" y="318.61" font-size="5.7" fill="#000" text-anchor="start" font-weight="normal" transform="rotate(0.04 474.00 318.61)" stroke="#000" stroke-width="0.1">Herbaspirillum</text>
<rect x="460.20" y="322.75" width="5.50" height="5.20" fill="#ff0000"/>
<text x="474.00" y="327.30" font-size="5.7" fill="#000" text-anchor="start" font-weight="normal" transform="rotate(0.04 474.00 327.30)" stroke="#000" stroke-width="0.1">Thermus</text>
<rect x="460.20" y="331.44" width="5.50" height="5.20" fill="#800000"/>
<text x="474.00" y="335.99" font-size="5.7" fill="#000" text-anchor="start" font-weight="normal" transform="rotate(0.04 474.00 335.99)" stroke="#000" stroke-width="0.1">Cloacibacterium</text>
<rect x="460.20" y="340.12" width="5.50" height="5.20" fill="#000080"/>
<text x="474.00" y="344.67" font-size="5.7" fill="#000" text-anchor="start" font-weight="normal" transform="rotate(0.04 474.00 344.67)" stroke="#000" stroke-width="0.1">Burkholderia-Caballeronia-Paraburkholderia</text>
<rect x="460.20" y="348.81" width="5.50" height="5.20" fill="#0000ff"/>
<text x="474.00" y="353.36" font-size="5.7" fill="#000" text-anchor="start" font-weight="normal" transform="rotate(0.04 474.00 353.36)" stroke="#000" stroke-width="0.1">Stenotrophomonas</text>
<rect x="460.20" y="357.50" width="5.50" height="5.20" fill="#ffc0cb"/>
<text x="474.00" y="362.05" font-size="5.7" fill="#000" text-anchor="start" font-weight="normal" transform="rotate(0.04 474.00 362.05)" stroke="#000" stroke-width="0.1">Dechloromonas</text>
<rect x="460.20" y="366.18" width="5.50" height="5.20" fill="#ffd700"/>
<text x="474.00" y="370.73" font-size="5.7" fill="#000" text-anchor="start" font-weight="normal" transform="rotate(0.04 474.00 370.73)" stroke="#000" stroke-width="0.1">Bacteroides</text>
<rect x="460.20" y="374.87" width="5.50" height="5.20" fill="#ffa500"/>
<text x="474.00" y="379.42" font-size="5.7" fill="#000" text-anchor="start" font-weight="normal" transform="rotate(0.04 474.00 379.42)" stroke="#000" stroke-width="0.1">Pseudomonas</text>
<rect x="460.20" y="383.56" width="5.50" height="5.20" fill="#00ffff"/>
<text x="474.00" y="388.11" font-size="5.7" fill="#000" text-anchor="start" font-weight="normal" transform="rotate(0.04 474.00 388.11)" stroke="#000" stroke-width="0.1">Sphingobium</text>
<rect x="460.20" y="392.24" width="5.50" height="5.20" fill="#ffff00"/>
<text x="474.00" y="396.79" font-size="5.7" fill="#000" text-anchor="start" font-weight="normal" transform="rotate(0.04 474.00 396.79)" stroke="#000" stroke-width="0.1">Staphylococcus</text>
<rect x="460.20" y="400.93" width="5.50" height="5.20" fill="#ff6347"/>
<text x="474.00" y="405.48" font-size="5.7" fill="#000" text-anchor="start" font-weight="normal" transform="rotate(0.04 474.00 405.48)" stroke="#000" stroke-width="0.1">Acinetobacter</text>
<rect x="460.20" y="409.62" width="5.50" height="5.20" fill="#00ff00"/>
<text x="474.00" y="414.17" font-size="5.7" fill="#000" text-anchor="start" font-weight="normal" transform="rotate(0.04 474.00 414.17)" stroke="#000" stroke-width="0.1">Streptococcus</text>
<rect x="460.20" y="418.30" width="5.50" height="5.20" fill="#00bfff"/>
<text x="472.70" y="422.85" font-size="5.7" fill="#000" text-anchor="start" font-weight="normal" transform="rotate(0.04 472.70 422.85)" stroke="#000" stroke-width="0.1">Others</text>
</g>
<g id="panelE">
<text x="1.40" y="501.80" font-size="10.5" fill="#000" text-anchor="start" font-weight="normal" transform="rotate(0.04 1.40 501.80)" stroke="#000" stroke-width="0.2">E</text>
<rect x="51.00" y="494.80" width="119.30" height="180.40" fill="#ebebeb"/>
<line x1="51.00" y1="644.05" x2="170.30" y2="644.05" stroke="#f7f7f7" stroke-width="0.7"/>
<line x1="51.00" y1="597.55" x2="170.30" y2="597.55" stroke="#f7f7f7" stroke-width="0.7"/>
<line x1="51.00" y1="551.05" x2="170.30" y2="551.05" stroke="#f7f7f7" stroke-width="0.7"/>
<line x1="51.00" y1="504.55" x2="170.30" y2="504.55" stroke="#f7f7f7" stroke-width="0.7"/>
<line x1="51.00" y1="667.30" x2="170.30" y2="667.30" stroke="#ffffff" stroke-width="1.0"/>
<line x1="49.90" y1="667.30" x2="51.00" y2="667.30" stroke="#333333" stroke-width="0.5"/>
<text x="48.90" y="669.80" font-size="6.8" fill="#222" text-anchor="end" font-weight="normal" transform="rotate(0.04 48.90 669.80)" textLength="3.0" lengthAdjust="spacingAndGlyphs">0</text>
<line x1="51.00" y1="620.80" x2="170.30" y2="620.80" stroke="#ffffff" stroke-width="1.0"/>
<line x1="49.90" y1="620.80" x2="51.00" y2="620.80" stroke="#333333" stroke-width="0.5"/>
<text x="48.90" y="623.30" font-size="6.8" fill="#222" text-anchor="end" font-weight="normal" transform="rotate(0.04 48.90 623.30)" textLength="8.9" lengthAdjust="spacingAndGlyphs">100</text>
<line x1="51.00" y1="574.30" x2="170.30" y2="574.30" stroke="#ffffff" stroke-width="1.0"/>
<line x1="49.90" y1="574.30" x2="51.00" y2="574.30" stroke="#333333" stroke-width="0.5"/>
<text x="48.90" y="576.80" font-size="6.8" fill="#222" text-anchor="end" font-weight="normal" transform="rotate(0.04 48.90 576.80)" textLength="8.9" lengthAdjust="spacingAndGlyphs">200</text>
<line x1="51.00" y1="527.80" x2="170.30" y2="527.80" stroke="#ffffff" stroke-width="1.0"/>
<line x1="49.90" y1="527.80" x2="51.00" y2="527.80" stroke="#333333" stroke-width="0.5"/>
<text x="48.90" y="530.30" font-size="6.8" fill="#222" text-anchor="end" font-weight="normal" transform="rotate(0.04 48.90 530.30)" textLength="8.9" lengthAdjust="spacingAndGlyphs">300</text>
<line x1="91.70" y1="515.90" x2="91.70" y2="675.20" stroke="#ffffff" stroke-width="0.9"/>
<line x1="142.30" y1="515.90" x2="142.30" y2="675.20" stroke="#ffffff" stroke-width="0.9"/>
<line x1="83.40" y1="550.00" x2="83.40" y2="592.80" stroke="#333333" stroke-width="0.7"/>
<line x1="83.40" y1="634.50" x2="83.40" y2="666.30" stroke="#333333" stroke-width="0.7"/>
<rect x="75.3" y="592.8" width="16.4" height="41.7" fill="#ff00ff" stroke="#333333" stroke-width="0.7"/>
<line x1="75.30" y1="615.20" x2="91.70" y2="615.20" stroke="#333333" stroke-width="1.2"/>
<circle cx="83.4" cy="503.8" r="1.05" fill="#333333"/>
<line x1="137.60" y1="551.40" x2="137.60" y2="602.80" stroke="#333333" stroke-width="0.7"/>
<line x1="137.60" y1="640.30" x2="137.60" y2="666.50" stroke="#333333" stroke-width="0.7"/>
<rect x="129.4" y="602.8" width="16.4" height="37.5" fill="#ffa500" stroke="#333333" stroke-width="0.7"/>
<line x1="129.40" y1="628.60" x2="145.80" y2="628.60" stroke="#333333" stroke-width="1.2"/>
<circle cx="137.6" cy="543.8" r="1.05" fill="#333333"/>
<text x="95.90" y="521.80" font-size="6.5" fill="#000" text-anchor="start" font-weight="normal" transform="rotate(0.04 95.90 521.80)">p =0.002</text>
<text x="83.40" y="683.90" font-size="7.2" fill="#000" text-anchor="middle" font-weight="bold" transform="rotate(0.04 83.40 683.90)">AC</text>
<text x="135.20" y="683.90" font-size="7.2" fill="#000" text-anchor="middle" font-weight="bold" transform="rotate(0.04 135.20 683.90)">SCC</text>
<text x="30.80" y="598.60" font-size="7.1" fill="#000" text-anchor="middle" font-weight="bold" transform="rotate(-90 30.80 598.60)">Richness</text>
</g>
<g id="panelF">
<text x="224.40" y="499.00" font-size="10" fill="#000" text-anchor="start" font-weight="normal" transform="rotate(0.04 224.40 499.00)">F</text>
<rect x="267.60" y="491.00" width="241.30" height="174.70" fill="#ebebeb"/>
<line x1="286.45" y1="491.00" x2="286.45" y2="665.70" stroke="#f7f7f7" stroke-width="0.7"/>
<line x1="347.15" y1="491.00" x2="347.15" y2="665.70" stroke="#f7f7f7" stroke-width="0.7"/>
<line x1="407.85" y1="491.00" x2="407.85" y2="665.70" stroke="#f7f7f7" stroke-width="0.7"/>
<line x1="468.55" y1="491.00" x2="468.55" y2="665.70" stroke="#f7f7f7" stroke-width="0.7"/>
<line x1="267.60" y1="630.48" x2="508.90" y2="630.48" stroke="#f7f7f7" stroke-width="0.7"/>
<line x1="267.60" y1="591.23" x2="508.90" y2="591.23" stroke="#f7f7f7" stroke-width="0.7"/>
<line x1="267.60" y1="551.98" x2="508.90" y2="551.98" stroke="#f7f7f7" stroke-width="0.7"/>
<line x1="267.60" y1="512.73" x2="508.90" y2="512.73" stroke="#f7f7f7" stroke-width="0.7"/>
<line x1="316.80" y1="491.00" x2="316.80" y2="665.70" stroke="#ffffff" stroke-width="1.0"/>
<line x1="316.80" y1="665.70" x2="316.80" y2="667.40" stroke="#333333" stroke-width="0.7"/>
<text x="315.80" y="673.80" font-size="6.3" fill="#454545" text-anchor="middle" font-weight="normal" transform="rotate(0.04 315.80 673.80)" textLength="13.4" lengthAdjust="spacingAndGlyphs">-0.3</text>
<line x1="377.50" y1="491.00" x2="377.50" y2="665.70" stroke="#ffffff" stroke-width="1.0"/>
<line x1="377.50" y1="665.70" x2="377.50" y2="667.40" stroke="#333333" stroke-width="0.7"/>
<text x="377.50" y="673.80" font-size="6.3" fill="#454545" text-anchor="middle" font-weight="normal" transform="rotate(0.04 377.50 673.80)" textLength="11.0" lengthAdjust="spacingAndGlyphs">0.0</text>
<line x1="438.20" y1="491.00" x2="438.20" y2="665.70" stroke="#ffffff" stroke-width="1.0"/>
<line x1="438.20" y1="665.70" x2="438.20" y2="667.40" stroke="#333333" stroke-width="0.7"/>
<text x="438.20" y="673.80" font-size="6.3" fill="#454545" text-anchor="middle" font-weight="normal" transform="rotate(0.04 438.20 673.80)" textLength="11.0" lengthAdjust="spacingAndGlyphs">0.3</text>
<line x1="498.90" y1="491.00" x2="498.90" y2="665.70" stroke="#ffffff" stroke-width="1.0"/>
<line x1="498.90" y1="665.70" x2="498.90" y2="667.40" stroke="#333333" stroke-width="0.7"/>
<text x="498.90" y="673.80" font-size="6.3" fill="#454545" text-anchor="middle" font-weight="normal" transform="rotate(0.04 498.90 673.80)" textLength="11.0" lengthAdjust="spacingAndGlyphs">0.6</text>
<line x1="267.60" y1="493.10" x2="508.90" y2="493.10" stroke="#ffffff" stroke-width="1.0"/>
<line x1="265.50" y1="493.10" x2="267.60" y2="493.10" stroke="#333333" stroke-width="0.7"/>
<text x="263.30" y="495.35" font-size="6.3" fill="#454545" text-anchor="end" font-weight="normal" transform="rotate(0.04 263.30 495.35)" textLength="11.0" lengthAdjust="spacingAndGlyphs">0.4</text>
<line x1="267.60" y1="532.35" x2="508.90" y2="532.35" stroke="#ffffff" stroke-width="1.0"/>
<line x1="265.50" y1="532.35" x2="267.60" y2="532.35" stroke="#333333" stroke-width="0.7"/>
<text x="263.30" y="534.60" font-size="6.3" fill="#454545" text-anchor="end" font-weight="normal" transform="rotate(0.04 263.30 534.60)" textLength="11.0" lengthAdjust="spacingAndGlyphs">0.2</text>
<line x1="267.60" y1="571.60" x2="508.90" y2="571.60" stroke="#ffffff" stroke-width="1.0"/>
<line x1="265.50" y1="571.60" x2="267.60" y2="571.60" stroke="#333333" stroke-width="0.7"/>
<text x="263.30" y="573.85" font-size="6.3" fill="#454545" text-anchor="end" font-weight="normal" transform="rotate(0.04 263.30 573.85)" textLength="11.0" lengthAdjust="spacingAndGlyphs">0.0</text>
<line x1="267.60" y1="610.85" x2="508.90" y2="610.85" stroke="#ffffff" stroke-width="1.0"/>
<line x1="265.50" y1="610.85" x2="267.60" y2="610.85" stroke="#333333" stroke-width="0.7"/>
<text x="263.30" y="613.10" font-size="6.3" fill="#454545" text-anchor="end" font-weight="normal" transform="rotate(0.04 263.30 613.10)" textLength="13.4" lengthAdjust="spacingAndGlyphs">-0.2</text>
<line x1="267.60" y1="650.10" x2="508.90" y2="650.10" stroke="#ffffff" stroke-width="1.0"/>
<line x1="265.50" y1="650.10" x2="267.60" y2="650.10" stroke="#333333" stroke-width="0.7"/>
<text x="263.30" y="652.35" font-size="6.3" fill="#454545" text-anchor="end" font-weight="normal" transform="rotate(0.04 263.30 652.35)" textLength="13.4" lengthAdjust="spacingAndGlyphs">-0.4</text>
<ellipse cx="378.65" cy="570.1" rx="100.25" ry="70.9" fill="none" stroke="#ff00ff" stroke-width="0.8"/>
<ellipse cx="362.6" cy="579.2" rx="27.85" ry="80.0" fill="none" stroke="#ffa500" stroke-width="0.8" transform="rotate(-9.84 362.6 579.2)"/>
<circle cx="346.6" cy="501.2" r="1.68" fill="#ffa500"/>
<circle cx="343.7" cy="503.1" r="1.68" fill="#ffa500"/>
<circle cx="361.8" cy="503.5" r="1.68" fill="#ff00ff"/>
<circle cx="346.2" cy="506.6" r="1.68" fill="#ff00ff"/>
<circle cx="350.9" cy="507.3" r="1.68" fill="#ffa500"/>
<circle cx="354.4" cy="509.2" r="1.68" fill="#ffa500"/>
<circle cx="340.2" cy="510.0" r="1.68" fill="#ffa500"/>
<circle cx="342.8" cy="511.6" r="1.68" fill="#ff00ff"/>
<circle cx="347.8" cy="511.6" r="1.68" fill="#ffa500"/>
<circle cx="349.7" cy="513.5" r="1.68" fill="#ffa500"/>
<circle cx="351.6" cy="513.5" r="1.68" fill="#ff00ff"/>
<circle cx="343.5" cy="514.7" r="1.68" fill="#ff00ff"/>
<circle cx="362.0" cy="515.4" r="1.68" fill="#ffa500"/>
<circle cx="359.9" cy="516.6" r="1.68" fill="#ffa500"/>
<circle cx="357.8" cy="517.8" r="1.68" fill="#ffa500"/>
<circle cx="338.6" cy="517.5" r="1.68" fill="#ff00ff"/>
<circle cx="343.1" cy="517.3" r="1.68" fill="#ff00ff"/>
<circle cx="348.3" cy="517.3" r="1.68" fill="#ffa500"/>
<circle cx="350.2" cy="519.5" r="1.68" fill="#ffa500"/>
<circle cx="352.6" cy="519.5" r="1.68" fill="#ffa500"/>
<circle cx="354.9" cy="519.2" r="1.68" fill="#ffa500"/>
<circle cx="343.3" cy="520.8" r="1.68" fill="#ffa500"/>
<circle cx="355.4" cy="522.5" r="1.68" fill="#ff00ff"/>
<circle cx="348.8" cy="523.0" r="1.68" fill="#ffa500"/>
<circle cx="344.5" cy="525.2" r="1.68" fill="#ff00ff"/>
<circle cx="346.9" cy="525.2" r="1.68" fill="#ff00ff"/>
<circle cx="356.1" cy="525.2" r="1.68" fill="#ff00ff"/>
<circle cx="351.6" cy="527.5" r="1.68" fill="#ff00ff"/>
<circle cx="354.0" cy="526.8" r="1.68" fill="#ff00ff"/>
<circle cx="358.7" cy="528.4" r="1.68" fill="#ff00ff"/>
<circle cx="358.2" cy="529.6" r="1.68" fill="#ffa500"/>
<circle cx="353.7" cy="529.9" r="1.68" fill="#ffa500"/>
<circle cx="361.1" cy="529.6" r="1.68" fill="#ff00ff"/>
<circle cx="363.5" cy="531.5" r="1.68" fill="#ff00ff"/>
<circle cx="362.0" cy="532.8" r="1.68" fill="#ff00ff"/>
<circle cx="350.9" cy="532.8" r="1.68" fill="#ffa500"/>
<circle cx="353.5" cy="533.4" r="1.68" fill="#ff00ff"/>
<circle cx="344.8" cy="533.4" r="1.68" fill="#ff00ff"/>
<circle cx="350.9" cy="536.5" r="1.68" fill="#ff00ff"/>
<circle cx="360.1" cy="536.7" r="1.68" fill="#ffa500"/>
<circle cx="364.6" cy="538.2" r="1.68" fill="#ff00ff"/>
<circle cx="348.3" cy="538.8" r="1.68" fill="#ffa500"/>
<circle cx="352.1" cy="540.1" r="1.68" fill="#ffa500"/>
<circle cx="362.5" cy="539.8" r="1.68" fill="#ffa500"/>
<circle cx="356.1" cy="542.2" r="1.68" fill="#ffa500"/>
<circle cx="354.0" cy="543.2" r="1.68" fill="#ffa500"/>
<circle cx="352.1" cy="544.3" r="1.68" fill="#ffa500"/>
<circle cx="350.2" cy="545.3" r="1.68" fill="#ffa500"/>
<circle cx="342.1" cy="544.8" r="1.68" fill="#ffa500"/>
<circle cx="341.6" cy="547.0" r="1.68" fill="#ff00ff"/>
<circle cx="346.4" cy="546.0" r="1.68" fill="#ff00ff"/>
<circle cx="361.4" cy="545.0" r="1.68" fill="#ff00ff"/>
<circle cx="371.5" cy="546.5" r="1.68" fill="#ff00ff"/>
<circle cx="363.0" cy="549.1" r="1.68" fill="#ffa500"/>
<circle cx="367.3" cy="549.3" r="1.68" fill="#ff00ff"/>
<circle cx="357.5" cy="550.3" r="1.68" fill="#ff00ff"/>
<circle cx="368.2" cy="551.5" r="1.68" fill="#ff00ff"/>
<circle cx="360.8" cy="553.1" r="1.68" fill="#ffa500"/>
<circle cx="348.6" cy="553.3" r="1.68" fill="#ff00ff"/>
<circle cx="364.4" cy="553.8" r="1.68" fill="#ff00ff"/>
<circle cx="350.2" cy="556.2" r="1.68" fill="#ffa500"/>
<circle cx="361.4" cy="555.2" r="1.68" fill="#ffa500"/>
<circle cx="358.1" cy="556.7" r="1.68" fill="#ff00ff"/>
<circle cx="362.0" cy="557.1" r="1.68" fill="#ffa500"/>
<circle cx="368.7" cy="558.8" r="1.68" fill="#ff00ff"/>
<circle cx="371.5" cy="557.1" r="1.68" fill="#ffa500"/>
<circle cx="347.3" cy="558.8" r="1.68" fill="#ffa500"/>
<circle cx="374.4" cy="559.3" r="1.68" fill="#ffa500"/>
<circle cx="365.8" cy="561.6" r="1.68" fill="#ff00ff"/>
<circle cx="367.7" cy="563.3" r="1.68" fill="#ff00ff"/>
<circle cx="365.2" cy="563.5" r="1.68" fill="#ff00ff"/>
<circle cx="346.2" cy="563.3" r="1.68" fill="#ffa500"/>
<circle cx="339.0" cy="565.0" r="1.68" fill="#ffa500"/>
<circle cx="375.5" cy="565.0" r="1.68" fill="#ff00ff"/>
<circle cx="361.4" cy="565.4" r="1.68" fill="#ffa500"/>
<circle cx="359.5" cy="567.3" r="1.68" fill="#ff00ff"/>
<circle cx="372.0" cy="567.1" r="1.68" fill="#ff00ff"/>
<circle cx="366.3" cy="569.7" r="1.68" fill="#ff00ff"/>
<circle cx="355.7" cy="569.7" r="1.68" fill="#ffa500"/>
<circle cx="375.0" cy="570.4" r="1.68" fill="#ff00ff"/>
<circle cx="349.9" cy="570.7" r="1.68" fill="#ffa500"/>
<circle cx="361.4" cy="570.7" r="1.68" fill="#ffa500"/>
<circle cx="354.0" cy="572.6" r="1.68" fill="#ff00ff"/>
<circle cx="356.3" cy="573.0" r="1.68" fill="#ff00ff"/>
<circle cx="353.0" cy="575.4" r="1.68" fill="#ffa500"/>
<circle cx="355.4" cy="576.8" r="1.68" fill="#ffa500"/>
<circle cx="362.5" cy="573.5" r="1.68" fill="#ff00ff"/>
<circle cx="360.6" cy="575.4" r="1.68" fill="#ff00ff"/>
<circle cx="362.0" cy="576.8" r="1.68" fill="#ff00ff"/>
<circle cx="367.3" cy="573.5" r="1.68" fill="#ff00ff"/>
<circle cx="367.7" cy="575.4" r="1.68" fill="#ffa500"/>
<circle cx="366.8" cy="577.0" r="1.68" fill="#ff00ff"/>
<circle cx="373.4" cy="575.1" r="1.68" fill="#ffa500"/>
<circle cx="377.9" cy="576.8" r="1.68" fill="#ffa500"/>
<circle cx="373.9" cy="578.7" r="1.68" fill="#ffa500"/>
<circle cx="374.4" cy="579.9" r="1.68" fill="#ff00ff"/>
<circle cx="377.2" cy="579.2" r="1.68" fill="#ffa500"/>
<circle cx="361.4" cy="578.7" r="1.68" fill="#ff00ff"/>
<circle cx="359.9" cy="580.1" r="1.68" fill="#ffa500"/>
<circle cx="362.5" cy="581.6" r="1.68" fill="#ffa500"/>
<circle cx="364.9" cy="583.2" r="1.68" fill="#ffa500"/>
<circle cx="352.7" cy="582.0" r="1.68" fill="#ffa500"/>
<circle cx="352.6" cy="583.5" r="1.68" fill="#ff00ff"/>
<circle cx="351.1" cy="585.6" r="1.68" fill="#ffa500"/>
<circle cx="353.5" cy="586.8" r="1.68" fill="#ff00ff"/>
<circle cx="358.2" cy="586.8" r="1.68" fill="#ff00ff"/>
<circle cx="362.5" cy="586.3" r="1.68" fill="#ffa500"/>
<circle cx="365.2" cy="587.4" r="1.68" fill="#ffa500"/>
<circle cx="359.9" cy="588.7" r="1.68" fill="#ff00ff"/>
<circle cx="360.4" cy="590.9" r="1.68" fill="#ff00ff"/>
<circle cx="376.6" cy="586.1" r="1.68" fill="#ff00ff"/>
<circle cx="372.3" cy="589.3" r="1.68" fill="#ff00ff"/>
<circle cx="375.8" cy="589.2" r="1.68" fill="#ffa500"/>
<circle cx="374.8" cy="591.5" r="1.68" fill="#ffa500"/>
<circle cx="377.2" cy="592.0" r="1.68" fill="#ffa500"/>
<circle cx="380.1" cy="591.5" r="1.68" fill="#ffa500"/>
<circle cx="373.0" cy="593.0" r="1.68" fill="#ffa500"/>
<circle cx="369.6" cy="593.7" r="1.68" fill="#ffa500"/>
<circle cx="364.4" cy="593.4" r="1.68" fill="#ff00ff"/>
<circle cx="362.5" cy="595.3" r="1.68" fill="#ff00ff"/>
<circle cx="369.9" cy="595.6" r="1.68" fill="#ff00ff"/>
<circle cx="380.4" cy="594.4" r="1.68" fill="#ffa500"/>
<circle cx="379.1" cy="595.8" r="1.68" fill="#ff00ff"/>
<circle cx="380.1" cy="596.7" r="1.68" fill="#ffa500"/>
<circle cx="373.9" cy="596.7" r="1.68" fill="#ffa500"/>
<circle cx="358.0" cy="596.1" r="1.68" fill="#ff00ff"/>
<circle cx="364.9" cy="596.7" r="1.68" fill="#ffa500"/>
<circle cx="362.5" cy="598.6" r="1.68" fill="#ffa500"/>
<circle cx="366.3" cy="598.8" r="1.68" fill="#ff00ff"/>
<circle cx="357.5" cy="599.4" r="1.68" fill="#ffa500"/>
<circle cx="370.9" cy="599.4" r="1.68" fill="#ff00ff"/>
<circle cx="375.8" cy="599.6" r="1.68" fill="#ff00ff"/>
<circle cx="375.6" cy="602.0" r="1.68" fill="#ffa500"/>
<circle cx="359.7" cy="601.3" r="1.68" fill="#ffa500"/>
<circle cx="371.5" cy="602.4" r="1.68" fill="#ffa500"/>
<circle cx="363.0" cy="603.4" r="1.68" fill="#ffa500"/>
<circle cx="354.9" cy="604.3" r="1.68" fill="#ff00ff"/>
<circle cx="358.7" cy="603.9" r="1.68" fill="#ff00ff"/>
<circle cx="370.9" cy="604.8" r="1.68" fill="#ffa500"/>
<circle cx="367.3" cy="605.3" r="1.68" fill="#ff00ff"/>
<circle cx="365.8" cy="606.7" r="1.68" fill="#ff00ff"/>
<circle cx="376.5" cy="605.5" r="1.68" fill="#ff00ff"/>
<circle cx="358.2" cy="607.7" r="1.68" fill="#ffa500"/>
<circle cx="368.7" cy="608.1" r="1.68" fill="#ff00ff"/>
<circle cx="370.1" cy="609.6" r="1.68" fill="#ff00ff"/>
<circle cx="351.6" cy="610.3" r="1.68" fill="#ffa500"/>
<circle cx="357.3" cy="612.2" r="1.68" fill="#ffa500"/>
<circle cx="364.9" cy="612.2" r="1.68" fill="#ffa500"/>
<circle cx="369.2" cy="612.2" r="1.68" fill="#ff00ff"/>
<circle cx="371.1" cy="612.4" r="1.68" fill="#ff00ff"/>
<circle cx="362.0" cy="613.1" r="1.68" fill="#ff00ff"/>
<circle cx="352.7" cy="614.0" r="1.68" fill="#ffa500"/>
<circle cx="359.5" cy="615.2" r="1.68" fill="#ff00ff"/>
<circle cx="355.4" cy="617.6" r="1.68" fill="#ff00ff"/>
<circle cx="361.1" cy="617.6" r="1.68" fill="#ffa500"/>
<circle cx="363.5" cy="618.8" r="1.68" fill="#ffa500"/>
<circle cx="367.3" cy="618.8" r="1.68" fill="#ffa500"/>
<circle cx="357.8" cy="619.3" r="1.68" fill="#ff00ff"/>
<circle cx="359.2" cy="615.9" r="1.68" fill="#ff00ff"/>
<circle cx="361.1" cy="618.3" r="1.68" fill="#ffa500"/>
<circle cx="363.5" cy="619.0" r="1.68" fill="#ffa500"/>
<circle cx="367.3" cy="619.0" r="1.68" fill="#ffa500"/>
<circle cx="360.1" cy="624.0" r="1.68" fill="#ffa500"/>
<circle cx="362.5" cy="623.1" r="1.68" fill="#ffa500"/>
<circle cx="357.8" cy="625.0" r="1.68" fill="#ffa500"/>
<circle cx="354.9" cy="626.4" r="1.68" fill="#ffa500"/>
<circle cx="356.8" cy="627.1" r="1.68" fill="#ffa500"/>
<circle cx="352.3" cy="633.3" r="1.68" fill="#ffa500"/>
<circle cx="465.4" cy="522.9" r="1.68" fill="#ff00ff"/>
<circle cx="448.8" cy="532.3" r="1.68" fill="#ff00ff"/>
<circle cx="469.2" cy="535.4" r="1.68" fill="#ff00ff"/>
<circle cx="480.3" cy="542.4" r="1.68" fill="#ff00ff"/>
<circle cx="469.2" cy="545.7" r="1.68" fill="#ff00ff"/>
<circle cx="474.7" cy="545.7" r="1.68" fill="#ff00ff"/>
<circle cx="488.5" cy="551.0" r="1.68" fill="#ff00ff"/>
<circle cx="486.7" cy="552.7" r="1.68" fill="#ff00ff"/>
<circle cx="489.3" cy="552.7" r="1.68" fill="#ff00ff"/>
<circle cx="495.2" cy="551.8" r="1.68" fill="#ff00ff"/>
<circle cx="478.3" cy="553.5" r="1.68" fill="#ff00ff"/>
<circle cx="473.3" cy="554.5" r="1.68" fill="#ff00ff"/>
<circle cx="469.2" cy="556.6" r="1.68" fill="#ff00ff"/>
<circle cx="484.4" cy="556.6" r="1.68" fill="#ffa500"/>
<circle cx="487.3" cy="556.2" r="1.68" fill="#ff00ff"/>
<circle cx="463.1" cy="558.2" r="1.68" fill="#ffa500"/>
<circle cx="479.7" cy="558.6" r="1.68" fill="#ff00ff"/>
<circle cx="488.1" cy="560.7" r="1.68" fill="#ff00ff"/>
<circle cx="481.1" cy="562.1" r="1.68" fill="#ffa500"/>
<circle cx="489.9" cy="563.6" r="1.68" fill="#ff00ff"/>
<circle cx="484.8" cy="566.7" r="1.68" fill="#ffa500"/>
<circle cx="492.9" cy="566.5" r="1.68" fill="#ffa500"/>
<circle cx="497.8" cy="567.0" r="1.68" fill="#ff00ff"/>
<circle cx="486.7" cy="568.3" r="1.68" fill="#ff00ff"/>
<circle cx="449.9" cy="569.4" r="1.68" fill="#ff00ff"/>
<circle cx="470.6" cy="570.8" r="1.68" fill="#ff00ff"/>
<circle cx="475.3" cy="570.3" r="1.68" fill="#ff00ff"/>
<circle cx="455.5" cy="573.3" r="1.68" fill="#ff00ff"/>
<circle cx="445.8" cy="574.3" r="1.68" fill="#ff00ff"/>
<circle cx="490.0" cy="573.5" r="1.68" fill="#ffa500"/>
<circle cx="494.7" cy="578.7" r="1.68" fill="#ff00ff"/>
<circle cx="487.9" cy="579.2" r="1.68" fill="#ffa500"/>
<circle cx="471.9" cy="580.0" r="1.68" fill="#ff00ff"/>
<circle cx="446.7" cy="582.8" r="1.68" fill="#ff00ff"/>
<circle cx="485.0" cy="584.9" r="1.68" fill="#ff00ff"/>
<circle cx="473.1" cy="585.4" r="1.68" fill="#ffa500"/>
<circle cx="460.1" cy="588.4" r="1.68" fill="#ff00ff"/>
<circle cx="433.3" cy="582.3" r="1.68" fill="#ff00ff"/>
<circle cx="437.8" cy="593.5" r="1.68" fill="#ff00ff"/>
<rect x="530.10" y="567.00" width="24.20" height="14.50" fill="#f2f2f2"/>
<rect x="530.10" y="582.80" width="24.20" height="14.50" fill="#f2f2f2"/>
<line x1="532.30" y1="574.25" x2="552.10" y2="574.25" stroke="#ff00ff" stroke-width="0.9"/>
<line x1="532.30" y1="590.05" x2="552.10" y2="590.05" stroke="#ffa500" stroke-width="0.9"/>
<circle cx="542.2" cy="574.25" r="3.0" fill="#ff00ff"/>
<circle cx="542.2" cy="590.05" r="3.0" fill="#ffa500"/>
<text x="557.90" y="577.40" font-size="6.9" fill="#000" text-anchor="start" font-weight="bold" transform="rotate(0.04 557.90 577.40)">AC</text>
<text x="557.90" y="591.90" font-size="6.9" fill="#000" text-anchor="start" font-weight="bold" transform="rotate(0.04 557.90 591.90)">SCC</text>
<text x="398.40" y="683.50" font-size="7.9" fill="#000" text-anchor="middle" font-weight="bold" transform="rotate(0.04 398.40 683.50)">Axis 1 (10.2%)</text>
<text x="244.00" y="577.00" font-size="7.7" fill="#000" text-anchor="middle" font-weight="bold" transform="rotate(-90 244.00 577.00)">Axis 2 (6.5%)</text>
</g>
</svg>
</body>
</html>
